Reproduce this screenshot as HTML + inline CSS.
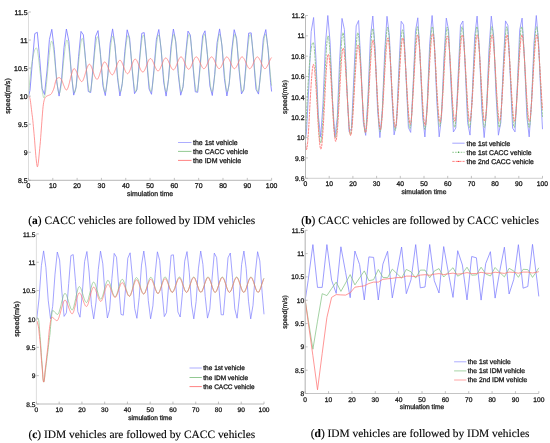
<!DOCTYPE html>
<html><head><meta charset="utf-8"><title>Speed plots</title>
<style>html,body{margin:0;padding:0;background:#fff;}body{width:550px;height:443px;overflow:hidden;}svg{display:block;filter:blur(0.3px);}</style>
</head><body>
<svg width="550" height="443" viewBox="0 0 550 443" font-family="'Liberation Sans', Arial, Helvetica, sans-serif" fill="#1e1e1e" text-rendering="geometricPrecision">
<style>text{stroke:#1e1e1e;stroke-width:0.3px;paint-order:stroke}</style>
<rect width="550" height="443" fill="#fff"/>
<polyline points="28.5,96.2 30.0,90.3 32.4,61.5 34.8,33.6 37.3,32.3 39.7,58.7 42.1,88.6 44.5,94.5 47.0,70.9 49.4,39.6 51.8,29.3 54.3,49.5 56.7,81.6 59.1,96.1 61.6,79.7 64.0,47.5 66.4,29.0 68.9,41.4 71.3,73.1 73.7,95.1 76.1,87.1 78.6,56.5 81.0,31.4 83.4,34.9 85.9,63.8 88.3,91.5 90.7,92.5 93.2,66.0 95.6,36.2 98.0,30.6 100.5,54.3 102.9,85.6 105.3,95.6 107.8,75.2 110.2,43.1 112.6,28.9 115.0,45.5 117.5,77.8 119.9,96.0 122.3,83.4 124.8,51.6 127.2,29.8 129.6,38.1 132.1,68.8 134.5,93.7 136.9,89.9 139.4,60.9 141.8,33.3 144.2,32.6 146.6,59.3 149.1,89.0 151.5,94.3 153.9,70.4 156.4,39.2 158.8,29.5 161.2,50.1 163.7,82.1 166.1,96.1 168.5,79.2 171.0,46.9 173.4,29.0 175.8,41.8 178.2,73.7 180.7,95.2 183.1,86.7 185.5,55.9 188.0,31.1 190.4,35.2 192.8,64.4 195.3,91.8 197.7,92.3 200.1,65.4 202.6,35.8 205.0,30.8 207.4,54.9 209.9,86.0 212.3,95.5 214.7,74.6 217.1,42.6 219.6,28.9 222.0,46.0 224.4,78.3 226.9,96.0 229.3,82.9 231.7,51.0 234.2,29.7 236.6,38.5 239.0,69.4 241.5,93.9 243.9,89.6 246.3,60.3 248.7,33.1 251.2,32.9 253.6,59.9 256.0,89.3 258.5,94.1 260.9,69.8 263.3,38.8 265.8,29.6 268.2,50.6 270.6,82.6 271.6,91.5" fill="none" stroke="#7c7cff" stroke-width="0.85" stroke-linejoin="round" />
<polyline points="28.5,96.2 28.8,92.4 29.1,88.8 29.4,85.4 29.7,82.1 30.0,79.0 30.3,76.1 30.6,73.3 30.9,70.6 31.2,68.1 31.5,65.8 31.8,63.6 32.1,61.5 32.5,59.6 32.8,57.8 33.1,56.2 33.4,54.8 33.7,53.4 34.0,52.3 34.3,51.2 34.6,50.3 34.9,49.6 35.2,49.0 35.5,48.5 35.8,48.2 36.1,48.0 36.4,47.9 36.7,48.2 37.0,48.9 37.3,50.0 37.6,51.4 37.9,53.2 38.2,55.2 38.5,57.5 38.8,60.0 39.1,62.7 39.4,65.5 39.7,68.4 40.0,71.4 40.4,74.4 40.7,77.3 41.0,80.2 41.3,83.0 41.6,85.7 41.9,88.2 42.2,90.5 42.5,92.6 42.8,94.3 43.1,95.8 43.4,96.9 43.7,97.6 44.0,97.8 44.3,97.6 44.6,96.9 44.9,95.7 45.2,94.1 45.5,92.1 45.8,89.8 46.1,87.3 46.4,84.5 46.7,81.4 47.0,78.3 47.3,75.0 47.6,71.6 47.9,68.3 48.3,64.9 48.6,61.6 48.9,58.4 49.2,55.3 49.5,52.5 49.8,49.8 50.1,47.4 50.4,45.4 50.7,43.7 51.0,42.4 51.3,41.5 51.6,41.2 51.9,41.3 52.2,41.9 52.5,43.0 52.8,44.4 53.1,46.2 53.4,48.2 53.7,50.6 54.0,53.1 54.3,55.9 54.6,58.8 54.9,61.8 55.2,64.9 55.5,68.0 55.8,71.1 56.2,74.1 56.5,77.1 56.8,79.9 57.1,82.6 57.4,85.1 57.7,87.3 58.0,89.2 58.3,90.8 58.6,92.1 58.9,92.9 59.2,93.3 59.5,93.2 59.8,92.7 60.1,91.7 60.4,90.3 60.7,88.5 61.0,86.4 61.3,84.1 61.6,81.5 61.9,78.7 62.2,75.8 62.5,72.7 62.8,69.5 63.1,66.4 63.4,63.2 63.7,60.1 64.1,57.0 64.4,54.1 64.7,51.4 65.0,48.8 65.3,46.5 65.6,44.5 65.9,42.8 66.2,41.5 66.5,40.6 66.8,40.1 67.1,40.1 67.4,40.6 67.7,41.6 68.0,42.9 68.3,44.6 68.6,46.6 68.9,48.9 69.2,51.4 69.5,54.2 69.8,57.1 70.1,60.1 70.4,63.2 70.7,66.3 71.0,69.5 71.3,72.6 71.7,75.6 72.0,78.5 72.3,81.2 72.6,83.8 72.9,86.1 73.2,88.1 73.5,89.9 73.8,91.2 74.1,92.2 74.4,92.7 74.7,92.7 75.0,92.3 75.3,91.4 75.6,90.1 75.9,88.4 76.2,86.3 76.5,84.0 76.8,81.4 77.1,78.6 77.4,75.6 77.7,72.5 78.0,69.3 78.3,66.1 78.6,62.9 78.9,59.7 79.2,56.5 79.6,53.5 79.9,50.6 80.2,48.0 80.5,45.6 80.8,43.4 81.1,41.6 81.4,40.2 81.7,39.1 82.0,38.5 82.3,38.4 82.6,38.8 82.9,39.6 83.2,40.9 83.5,42.5 83.8,44.5 84.1,46.8 84.4,49.3 84.7,52.0 85.0,54.9 85.3,58.0 85.6,61.1 85.9,64.3 86.2,67.6 86.5,70.7 86.8,73.9 87.1,76.9 87.5,79.7 87.8,82.4 88.1,84.8 88.4,87.0 88.7,88.8 89.0,90.3 89.3,91.4 89.6,92.0 89.9,92.2 90.2,91.9 90.5,91.1 90.8,89.8 91.1,88.2 91.4,86.2 91.7,83.9 92.0,81.3 92.3,78.5 92.6,75.5 92.9,72.4 93.2,69.2 93.5,65.9 93.8,62.6 94.1,59.3 94.4,56.0 94.7,52.9 95.0,50.0 95.4,47.2 95.7,44.7 96.0,42.4 96.3,40.4 96.6,38.9 96.9,37.7 97.2,36.9 97.5,36.7 97.8,36.9 98.1,37.7 98.4,38.9 98.7,40.5 99.0,42.4 99.3,44.7 99.6,47.2 99.9,50.0 100.2,53.0 100.5,56.1 100.8,59.3 101.1,62.6 101.4,65.9 101.7,69.2 102.0,72.4 102.3,75.6 102.6,78.6 102.9,81.4 103.3,83.9 103.6,86.2 103.9,88.2 104.2,89.9 104.5,91.1 104.8,91.9 105.1,92.2 105.4,92.0 105.7,91.3 106.0,90.2 106.3,88.6 106.6,86.7 106.9,84.5 107.2,81.9 107.5,79.2 107.8,76.2 108.1,73.1 108.4,69.8 108.7,66.5 109.0,63.1 109.3,59.8 109.6,56.5 109.9,53.4 110.2,50.3 110.5,47.5 110.9,44.8 111.2,42.5 111.5,40.4 111.8,38.7 112.1,37.4 112.4,36.5 112.7,36.1 113.0,36.3 113.3,36.9 113.6,38.0 113.9,39.4 114.2,41.3 114.5,43.5 114.8,46.0 115.1,48.7 115.4,51.6 115.7,54.7 116.0,57.9 116.3,61.2 116.6,64.5 116.9,67.8 117.2,71.0 117.5,74.2 117.8,77.2 118.1,80.1 118.4,82.7 118.8,85.1 119.1,87.2 119.4,88.9 119.7,90.2 120.0,91.2 120.3,91.6 120.6,91.6 120.9,91.0 121.2,90.0 121.5,88.5 121.8,86.7 122.1,84.5 122.4,82.1 122.7,79.4 123.0,76.4 123.3,73.3 123.6,70.1 123.9,66.8 124.2,63.5 124.5,60.1 124.8,56.8 125.1,53.6 125.4,50.5 125.7,47.6 126.0,44.9 126.3,42.5 126.7,40.4 127.0,38.6 127.3,37.1 127.6,36.2 127.9,35.6 128.2,35.6 128.5,36.1 128.8,37.1 129.1,38.5 129.4,40.3 129.7,42.4 130.0,44.8 130.3,47.5 130.6,50.4 130.9,53.5 131.2,56.7 131.5,60.0 131.8,63.3 132.1,66.6 132.4,70.0 132.7,73.2 133.0,76.3 133.3,79.2 133.6,81.9 133.9,84.4 134.2,86.6 134.6,88.4 134.9,89.9 135.2,91.0 135.5,91.5 135.8,91.6 136.1,91.2 136.4,90.3 136.7,88.9 137.0,87.2 137.3,85.1 137.6,82.7 137.9,80.0 138.2,77.1 138.5,74.0 138.8,70.8 139.1,67.5 139.4,64.1 139.7,60.7 140.0,57.4 140.3,54.1 140.6,50.9 140.9,48.0 141.2,45.2 141.5,42.6 141.8,40.4 142.1,38.5 142.5,36.9 142.8,35.8 143.1,35.2 143.4,35.0 143.7,35.4 144.0,36.2 144.3,37.5 144.6,39.2 144.9,41.3 145.2,43.7 145.5,46.3 145.8,49.2 146.1,52.2 146.4,55.5 146.7,58.8 147.0,62.1 147.3,65.5 147.6,68.9 147.9,72.1 148.2,75.3 148.5,78.3 148.8,81.1 149.1,83.7 149.4,86.0 149.7,87.9 150.1,89.5 150.4,90.7 150.7,91.4 151.0,91.7 151.3,91.4 151.6,90.6 151.9,89.3 152.2,87.7 152.5,85.7 152.8,83.3 153.1,80.7 153.4,77.9 153.7,74.8 154.0,71.6 154.3,68.3 154.6,65.0 154.9,61.6 155.2,58.3 155.5,55.0 155.8,51.8 156.1,48.7 156.4,45.9 156.7,43.3 157.0,41.0 157.3,39.0 157.6,37.3 158.0,36.1 158.3,35.3 158.6,35.0 158.9,35.2 159.2,36.0 159.5,37.2 159.8,38.7 160.1,40.7 160.4,43.0 160.7,45.6 161.0,48.4 161.3,51.4 161.6,54.6 161.9,57.9 162.2,61.2 162.5,64.6 162.8,68.0 163.1,71.3 163.4,74.5 163.7,77.5 164.0,80.4 164.3,83.0 164.6,85.4 164.9,87.5 165.2,89.2 165.5,90.4 165.9,91.3 166.2,91.7 166.5,91.5 166.8,90.8 167.1,89.7 167.4,88.1 167.7,86.2 168.0,83.9 168.3,81.3 168.6,78.5 168.9,75.5 169.2,72.3 169.5,69.0 169.8,65.6 170.1,62.2 170.4,58.8 170.7,55.5 171.0,52.2 171.3,49.1 171.6,46.2 171.9,43.5 172.2,41.1 172.5,38.9 172.8,37.2 173.1,35.8 173.4,34.9 173.8,34.5 174.1,34.6 174.4,35.2 174.7,36.3 175.0,37.8 175.3,39.6 175.6,41.9 175.9,44.4 176.2,47.2 176.5,50.2 176.8,53.4 177.1,56.7 177.4,60.0 177.7,63.4 178.0,66.8 178.3,70.2 178.6,73.5 178.9,76.6 179.2,79.5 179.5,82.3 179.8,84.7 180.1,86.9 180.4,88.7 180.7,90.1 181.0,91.1 181.3,91.6 181.7,91.6 182.0,91.0 182.3,90.0 182.6,88.6 182.9,86.7 183.2,84.5 183.5,82.0 183.8,79.3 184.1,76.3 184.4,73.2 184.7,69.9 185.0,66.5 185.3,63.1 185.6,59.7 185.9,56.3 186.2,53.1 186.5,49.9 186.8,46.9 187.1,44.2 187.4,41.7 187.7,39.5 188.0,37.6 188.3,36.1 188.6,35.1 188.9,34.5 189.2,34.5 189.6,35.0 189.9,35.9 190.2,37.3 190.5,39.1 190.8,41.3 191.1,43.7 191.4,46.4 191.7,49.4 192.0,52.5 192.3,55.8 192.6,59.1 192.9,62.5 193.2,65.9 193.5,69.3 193.8,72.6 194.1,75.8 194.4,78.8 194.7,81.6 195.0,84.1 195.3,86.4 195.6,88.3 195.9,89.8 196.2,90.9 196.5,91.5 196.8,91.6 197.2,91.2 197.5,90.3 197.8,89.0 198.1,87.2 198.4,85.1 198.7,82.7 199.0,80.0 199.3,77.1 199.6,74.0 199.9,70.8 200.2,67.4 200.5,64.0 200.8,60.6 201.1,57.2 201.4,53.9 201.7,50.7 202.0,47.7 202.3,44.9 202.6,42.3 202.9,40.0 203.2,38.1 203.5,36.5 203.8,35.3 204.1,34.6 204.4,34.4 204.7,34.8 205.1,35.6 205.4,36.9 205.7,38.6 206.0,40.7 206.3,43.0 206.6,45.7 206.9,48.6 207.2,51.7 207.5,54.9 207.8,58.2 208.1,61.6 208.4,65.0 208.7,68.4 209.0,71.7 209.3,74.9 209.6,78.0 209.9,80.9 210.2,83.5 210.5,85.8 210.8,87.8 211.1,89.4 211.4,90.6 211.7,91.4 212.0,91.7 212.3,91.4 212.6,90.6 213.0,89.4 213.3,87.7 213.6,85.7 213.9,83.4 214.2,80.8 214.5,77.9 214.8,74.9 215.1,71.6 215.4,68.3 215.7,64.9 216.0,61.5 216.3,58.1 216.6,54.8 216.9,51.6 217.2,48.5 217.5,45.6 217.8,43.0 218.1,40.6 218.4,38.5 218.7,36.9 219.0,35.6 219.3,34.8 219.6,34.4 219.9,34.6 220.2,35.4 220.5,36.5 220.9,38.1 221.2,40.1 221.5,42.4 221.8,45.0 222.1,47.8 222.4,50.8 222.7,54.0 223.0,57.3 223.3,60.7 223.6,64.1 223.9,67.5 224.2,70.9 224.5,74.1 224.8,77.2 225.1,80.1 225.4,82.8 225.7,85.2 226.0,87.3 226.3,89.0 226.6,90.4 226.9,91.3 227.2,91.6 227.5,91.5 227.8,90.9 228.1,89.8 228.4,88.2 228.8,86.3 229.1,84.1 229.4,81.5 229.7,78.7 230.0,75.7 230.3,72.5 230.6,69.2 230.9,65.8 231.2,62.4 231.5,59.0 231.8,55.7 232.1,52.4 232.4,49.3 232.7,46.4 233.0,43.6 233.3,41.2 233.6,39.1 233.9,37.3 234.2,35.9 234.5,34.9 234.8,34.5 235.1,34.5 235.4,35.1 235.7,36.2 236.0,37.7 236.4,39.5 236.7,41.7 237.0,44.2 237.3,47.0 237.6,50.0 237.9,53.2 238.2,56.4 238.5,59.8 238.8,63.2 239.1,66.6 239.4,70.0 239.7,73.3 240.0,76.4 240.3,79.4 240.6,82.1 240.9,84.6 241.2,86.8 241.5,88.6 241.8,90.1 242.1,91.1 242.4,91.6 242.7,91.6 243.0,91.1 243.3,90.1 243.6,88.7 243.9,86.8 244.3,84.7 244.6,82.2 244.9,79.5 245.2,76.5 245.5,73.4 245.8,70.1 246.1,66.7 246.4,63.3 246.7,59.9 247.0,56.6 247.3,53.3 247.6,50.1 247.9,47.1 248.2,44.3 248.5,41.8 248.8,39.6 249.1,37.7 249.4,36.2 249.7,35.1 250.0,34.6 250.3,34.5 250.6,34.9 250.9,35.8 251.2,37.2 251.5,39.0 251.8,41.1 252.2,43.6 252.5,46.3 252.8,49.2 253.1,52.3 253.4,55.6 253.7,58.9 254.0,62.3 254.3,65.7 254.6,69.1 254.9,72.4 255.2,75.6 255.5,78.6 255.8,81.4 256.1,84.0 256.4,86.2 256.7,88.2 257.0,89.7 257.3,90.8 257.6,91.5 257.9,91.6 258.2,91.3 258.5,90.4 258.8,89.1 259.1,87.4 259.4,85.3 259.7,82.9 260.1,80.2 260.4,77.3 260.7,74.2 261.0,71.0 261.3,67.6 261.6,64.2 261.9,60.8 262.2,57.4 262.5,54.1 262.8,50.9 263.1,47.9 263.4,45.1 263.7,42.5 264.0,40.1 264.3,38.2 264.6,36.6 264.9,35.4 265.2,34.7 265.5,34.4 265.8,34.8 266.1,35.6 266.4,36.8 266.7,38.5 267.0,40.5 267.3,42.9 267.6,45.5 268.0,48.4 268.3,51.5 268.6,54.7 268.9,58.0 269.2,61.4 269.5,64.8 269.8,68.2 270.1,71.5 270.4,74.8 270.7,77.8 271.0,80.7 271.3,83.3 271.6,85.7" fill="none" stroke="#8cc68c" stroke-width="0.55" stroke-linejoin="round" />
<polyline points="28.5,96.2 28.8,96.2 29.1,96.4 29.4,96.7 29.7,97.4 30.0,98.6 30.3,100.3 30.6,102.3 30.9,104.7 31.2,107.2 31.5,109.7 31.8,112.3 32.1,114.7 32.5,117.4 32.8,120.3 33.1,123.4 33.4,126.7 33.7,130.0 34.0,133.3 34.3,136.7 34.6,140.2 34.9,144.1 35.2,148.1 35.5,151.9 35.8,155.4 36.1,158.3 36.4,161.0 36.7,163.6 37.0,165.7 37.3,166.8 37.6,166.6 37.9,165.4 38.2,163.5 38.5,161.0 38.8,158.1 39.1,155.0 39.4,151.9 39.7,148.8 40.0,145.5 40.4,141.6 40.7,137.4 41.0,133.2 41.3,129.0 41.6,125.1 41.9,121.2 42.2,117.1 42.5,113.1 42.8,109.5 43.1,106.4 43.4,104.2 43.7,102.4 44.0,100.9 44.3,99.7 44.6,98.8 44.9,98.2 45.2,97.7 45.5,97.2 45.8,96.9 46.1,96.6 46.4,96.4 46.7,96.2 47.0,96.0 47.3,95.9 47.6,95.7 47.9,95.6 48.3,95.5 48.6,95.3 48.9,95.2 49.2,95.1 49.5,95.0 49.8,94.9 50.1,94.8 50.4,94.6 50.7,94.4 51.0,94.2 51.3,93.8 51.6,93.4 51.9,92.9 52.2,92.3 52.5,91.7 52.8,91.0 53.1,90.4 53.4,89.7 53.7,89.0 54.0,88.0 54.3,86.9 54.6,85.6 54.9,84.3 55.2,83.0 55.5,81.7 55.8,80.6 56.2,79.7 56.5,79.1 56.8,78.7 57.1,78.5 57.4,78.3 57.7,78.1 58.0,77.9 58.3,77.8 58.6,77.7 58.9,77.7 59.2,77.6 59.5,77.7 59.8,77.9 60.1,78.1 60.4,78.4 60.7,78.6 61.0,78.9 61.3,79.4 61.6,79.9 61.9,80.5 62.2,81.2 62.5,82.0 62.8,82.8 63.1,83.6 63.4,84.5 63.7,85.3 64.1,86.1 64.4,86.9 64.7,87.7 65.0,88.3 65.3,88.9 65.6,89.4 65.9,89.7 66.2,89.9 66.5,90.0 66.8,89.9 67.1,89.5 67.4,89.1 67.7,88.4 68.0,87.7 68.3,86.8 68.6,85.8 68.9,84.7 69.2,83.6 69.5,82.4 69.8,81.1 70.1,79.9 70.4,78.6 70.7,77.3 71.0,76.1 71.3,74.9 71.7,73.8 72.0,72.7 72.3,71.7 72.6,70.9 72.9,70.1 73.2,69.5 73.5,69.0 73.8,68.8 74.1,68.7 74.4,68.7 74.7,68.9 75.0,69.2 75.3,69.5 75.6,70.0 75.9,70.5 76.2,71.1 76.5,71.8 76.8,72.4 77.1,73.2 77.4,73.9 77.7,74.7 78.0,75.4 78.3,76.2 78.6,77.0 78.9,77.7 79.2,78.4 79.6,79.0 79.9,79.6 80.2,80.2 80.5,80.6 80.8,81.0 81.1,81.3 81.4,81.5 81.7,81.6 82.0,81.5 82.3,81.3 82.6,80.9 82.9,80.5 83.2,79.9 83.5,79.2 83.8,78.4 84.1,77.5 84.4,76.6 84.7,75.6 85.0,74.6 85.3,73.6 85.6,72.6 85.9,71.5 86.2,70.5 86.5,69.5 86.8,68.6 87.1,67.7 87.5,66.9 87.8,66.1 88.1,65.5 88.4,65.0 88.7,64.6 89.0,64.3 89.3,64.2 89.6,64.2 89.9,64.4 90.2,64.7 90.5,65.1 90.8,65.6 91.1,66.2 91.4,66.9 91.7,67.6 92.0,68.4 92.3,69.2 92.6,70.1 92.9,71.0 93.2,71.9 93.5,72.8 93.8,73.7 94.1,74.6 94.4,75.4 94.7,76.2 95.0,76.9 95.4,77.5 95.7,78.1 96.0,78.6 96.3,78.9 96.6,79.2 96.9,79.3 97.2,79.3 97.5,79.1 97.8,78.8 98.1,78.3 98.4,77.8 98.7,77.1 99.0,76.3 99.3,75.5 99.6,74.6 99.9,73.6 100.2,72.6 100.5,71.6 100.8,70.6 101.1,69.5 101.4,68.5 101.7,67.5 102.0,66.6 102.3,65.7 102.6,64.8 102.9,64.1 103.3,63.4 103.6,62.9 103.9,62.4 104.2,62.1 104.5,62.0 104.8,61.9 105.1,62.1 105.4,62.3 105.7,62.6 106.0,63.0 106.3,63.5 106.6,64.1 106.9,64.7 107.2,65.3 107.5,66.0 107.8,66.8 108.1,67.5 108.4,68.3 108.7,69.1 109.0,69.8 109.3,70.6 109.6,71.3 109.9,72.0 110.2,72.6 110.5,73.2 110.9,73.7 111.2,74.1 111.5,74.4 111.8,74.7 112.1,74.8 112.4,74.8 112.7,74.7 113.0,74.5 113.3,74.1 113.6,73.7 113.9,73.1 114.2,72.5 114.5,71.8 114.8,71.1 115.1,70.3 115.4,69.5 115.7,68.6 116.0,67.7 116.3,66.9 116.6,66.0 116.9,65.2 117.2,64.4 117.5,63.6 117.8,62.9 118.1,62.2 118.4,61.6 118.8,61.1 119.1,60.7 119.4,60.5 119.7,60.3 120.0,60.2 120.3,60.3 120.6,60.5 120.9,60.8 121.2,61.3 121.5,61.7 121.8,62.3 122.1,62.9 122.4,63.6 122.7,64.3 123.0,65.1 123.3,65.9 123.6,66.7 123.9,67.5 124.2,68.3 124.5,69.1 124.8,69.8 125.1,70.5 125.4,71.2 125.7,71.8 126.0,72.4 126.3,72.8 126.7,73.2 127.0,73.5 127.3,73.7 127.6,73.7 127.9,73.6 128.2,73.4 128.5,73.1 128.8,72.7 129.1,72.2 129.4,71.6 129.7,70.9 130.0,70.2 130.3,69.4 130.6,68.6 130.9,67.7 131.2,66.8 131.5,66.0 131.8,65.1 132.1,64.3 132.4,63.4 132.7,62.7 133.0,61.9 133.3,61.3 133.6,60.7 133.9,60.1 134.2,59.7 134.6,59.4 134.9,59.2 135.2,59.1 135.5,59.2 135.8,59.3 136.1,59.6 136.4,60.0 136.7,60.4 137.0,60.9 137.3,61.5 137.6,62.2 137.9,62.9 138.2,63.6 138.5,64.3 138.8,65.1 139.1,65.9 139.4,66.6 139.7,67.4 140.0,68.1 140.3,68.8 140.6,69.5 140.9,70.1 141.2,70.6 141.5,71.1 141.8,71.5 142.1,71.7 142.5,71.9 142.8,72.0 143.1,72.0 143.4,71.8 143.7,71.6 144.0,71.2 144.3,70.7 144.6,70.2 144.9,69.6 145.2,68.9 145.5,68.2 145.8,67.5 146.1,66.7 146.4,65.9 146.7,65.1 147.0,64.3 147.3,63.5 147.6,62.7 147.9,62.0 148.2,61.3 148.5,60.7 148.8,60.1 149.1,59.6 149.4,59.2 149.7,58.9 150.1,58.7 150.4,58.6 150.7,58.6 151.0,58.7 151.3,59.0 151.6,59.3 151.9,59.7 152.2,60.2 152.5,60.7 152.8,61.3 153.1,62.0 153.4,62.6 153.7,63.4 154.0,64.1 154.3,64.8 154.6,65.5 154.9,66.3 155.2,67.0 155.5,67.7 155.8,68.3 156.1,68.9 156.4,69.4 156.7,69.9 157.0,70.3 157.3,70.6 157.6,70.8 158.0,70.9 158.3,70.9 158.6,70.8 158.9,70.5 159.2,70.2 159.5,69.8 159.8,69.3 160.1,68.7 160.4,68.1 160.7,67.4 161.0,66.7 161.3,66.0 161.6,65.2 161.9,64.5 162.2,63.7 162.5,62.9 162.8,62.2 163.1,61.5 163.4,60.8 163.7,60.2 164.0,59.6 164.3,59.1 164.6,58.7 164.9,58.4 165.2,58.2 165.5,58.0 165.9,58.0 166.2,58.1 166.5,58.3 166.8,58.6 167.1,59.0 167.4,59.4 167.7,59.9 168.0,60.5 168.3,61.1 168.6,61.7 168.9,62.4 169.2,63.1 169.5,63.8 169.8,64.5 170.1,65.2 170.4,65.9 170.7,66.5 171.0,67.1 171.3,67.7 171.6,68.2 171.9,68.7 172.2,69.1 172.5,69.4 172.8,69.6 173.1,69.8 173.4,69.8 173.8,69.7 174.1,69.5 174.4,69.2 174.7,68.8 175.0,68.3 175.3,67.8 175.6,67.2 175.9,66.5 176.2,65.8 176.5,65.1 176.8,64.3 177.1,63.6 177.4,62.8 177.7,62.0 178.0,61.3 178.3,60.6 178.6,59.9 178.9,59.2 179.2,58.7 179.5,58.1 179.8,57.7 180.1,57.3 180.4,57.1 180.7,56.9 181.0,56.9 181.3,57.0 181.7,57.1 182.0,57.4 182.3,57.8 182.6,58.2 182.9,58.7 183.2,59.3 183.5,59.9 183.8,60.6 184.1,61.3 184.4,62.0 184.7,62.7 185.0,63.5 185.3,64.2 185.6,64.9 185.9,65.6 186.2,66.3 186.5,66.9 186.8,67.5 187.1,68.0 187.4,68.4 187.7,68.7 188.0,69.0 188.3,69.2 188.6,69.2 188.9,69.2 189.2,69.0 189.6,68.7 189.9,68.4 190.2,67.9 190.5,67.4 190.8,66.9 191.1,66.3 191.4,65.6 191.7,64.9 192.0,64.2 192.3,63.5 192.6,62.7 192.9,62.0 193.2,61.3 193.5,60.6 193.8,59.9 194.1,59.3 194.4,58.7 194.7,58.2 195.0,57.8 195.3,57.4 195.6,57.1 195.9,57.0 196.2,56.9 196.5,56.9 196.8,57.1 197.2,57.3 197.5,57.6 197.8,58.0 198.1,58.5 198.4,59.0 198.7,59.6 199.0,60.3 199.3,60.9 199.6,61.6 199.9,62.3 200.2,63.0 200.5,63.7 200.8,64.4 201.1,65.0 201.4,65.7 201.7,66.3 202.0,66.8 202.3,67.3 202.6,67.8 202.9,68.1 203.2,68.4 203.5,68.6 203.8,68.7 204.1,68.6 204.4,68.5 204.7,68.3 205.1,68.0 205.4,67.6 205.7,67.1 206.0,66.6 206.3,66.0 206.6,65.4 206.9,64.7 207.2,64.0 207.5,63.3 207.8,62.6 208.1,61.9 208.4,61.3 208.7,60.6 209.0,59.9 209.3,59.3 209.6,58.8 209.9,58.3 210.2,57.8 210.5,57.5 210.8,57.2 211.1,57.0 211.4,56.9 211.7,56.9 212.0,57.0 212.3,57.2 212.6,57.5 213.0,57.9 213.3,58.4 213.6,58.9 213.9,59.5 214.2,60.1 214.5,60.7 214.8,61.4 215.1,62.1 215.4,62.8 215.7,63.5 216.0,64.2 216.3,64.9 216.6,65.5 216.9,66.1 217.2,66.7 217.5,67.2 217.8,67.7 218.1,68.0 218.4,68.3 218.7,68.5 219.0,68.6 219.3,68.6 219.6,68.5 219.9,68.3 220.2,68.0 220.5,67.7 220.9,67.2 221.2,66.7 221.5,66.2 221.8,65.5 222.1,64.9 222.4,64.2 222.7,63.5 223.0,62.8 223.3,62.1 223.6,61.4 223.9,60.8 224.2,60.1 224.5,59.5 224.8,58.9 225.1,58.4 225.4,57.9 225.7,57.6 226.0,57.2 226.3,57.0 226.6,56.9 226.9,56.9 227.2,57.0 227.5,57.2 227.8,57.5 228.1,57.8 228.4,58.3 228.8,58.8 229.1,59.3 229.4,59.9 229.7,60.6 230.0,61.2 230.3,61.9 230.6,62.6 230.9,63.3 231.2,64.0 231.5,64.7 231.8,65.3 232.1,66.0 232.4,66.5 232.7,67.1 233.0,67.5 233.3,67.9 233.6,68.3 233.9,68.5 234.2,68.6 234.5,68.7 234.8,68.6 235.1,68.4 235.4,68.1 235.7,67.8 236.0,67.3 236.4,66.9 236.7,66.3 237.0,65.7 237.3,65.1 237.6,64.4 237.9,63.7 238.2,63.0 238.5,62.3 238.8,61.6 239.1,60.9 239.4,60.3 239.7,59.7 240.0,59.1 240.3,58.5 240.6,58.1 240.9,57.6 241.2,57.3 241.5,57.1 241.8,56.9 242.1,56.9 242.4,56.9 242.7,57.1 243.0,57.4 243.3,57.7 243.6,58.1 243.9,58.6 244.3,59.2 244.6,59.8 244.9,60.4 245.2,61.0 245.5,61.7 245.8,62.4 246.1,63.1 246.4,63.8 246.7,64.5 247.0,65.2 247.3,65.8 247.6,66.4 247.9,66.9 248.2,67.4 248.5,67.8 248.8,68.2 249.1,68.4 249.4,68.6 249.7,68.7 250.0,68.6 250.3,68.5 250.6,68.2 250.9,67.9 251.2,67.5 251.5,67.0 251.8,66.5 252.2,65.9 252.5,65.2 252.8,64.6 253.1,63.9 253.4,63.2 253.7,62.5 254.0,61.8 254.3,61.1 254.6,60.4 254.9,59.8 255.2,59.2 255.5,58.7 255.8,58.2 256.1,57.8 256.4,57.4 256.7,57.1 257.0,57.0 257.3,56.9 257.6,56.9 257.9,57.1 258.2,57.3 258.5,57.6 258.8,58.0 259.1,58.5 259.4,59.0 259.7,59.6 260.1,60.2 260.4,60.9 260.7,61.5 261.0,62.2 261.3,62.9 261.6,63.6 261.9,64.3 262.2,65.0 262.5,65.6 262.8,66.2 263.1,66.8 263.4,67.3 263.7,67.7 264.0,68.1 264.3,68.4 264.6,68.6 264.9,68.7 265.2,68.6 265.5,68.5 265.8,68.3 266.1,68.0 266.4,67.6 266.7,67.1 267.0,66.6 267.3,66.0 267.6,65.4 268.0,64.8 268.3,64.1 268.6,63.4 268.9,62.7 269.2,62.0 269.5,61.3 269.8,60.6 270.1,60.0 270.4,59.4 270.7,58.8 271.0,58.3 271.3,57.9 271.6,57.5" fill="none" stroke="#ff7474" stroke-width="0.75" stroke-linejoin="round" />
<line x1="28.50" y1="12.00" x2="28.50" y2="180.30" stroke="#d4d4d4" stroke-width="0.8"/>
<line x1="28.50" y1="180.30" x2="271.60" y2="180.30" stroke="#a4a4a4" stroke-width="0.8"/>
<line x1="28.50" y1="180.30" x2="30.90" y2="180.30" stroke="#a8a8a8" stroke-width="0.7"/>
<text x="27.50" y="183.18" text-anchor="end" font-size="6.9">8.5</text>
<line x1="28.50" y1="152.25" x2="30.90" y2="152.25" stroke="#a8a8a8" stroke-width="0.7"/>
<text x="27.50" y="155.13" text-anchor="end" font-size="6.9">9</text>
<line x1="28.50" y1="124.20" x2="30.90" y2="124.20" stroke="#a8a8a8" stroke-width="0.7"/>
<text x="27.50" y="127.08" text-anchor="end" font-size="6.9">9.5</text>
<line x1="28.50" y1="96.15" x2="30.90" y2="96.15" stroke="#a8a8a8" stroke-width="0.7"/>
<text x="27.50" y="99.03" text-anchor="end" font-size="6.9">10</text>
<line x1="28.50" y1="68.10" x2="30.90" y2="68.10" stroke="#a8a8a8" stroke-width="0.7"/>
<text x="27.50" y="70.98" text-anchor="end" font-size="6.9">10.5</text>
<line x1="28.50" y1="40.05" x2="30.90" y2="40.05" stroke="#a8a8a8" stroke-width="0.7"/>
<text x="27.50" y="42.93" text-anchor="end" font-size="6.9">11</text>
<line x1="28.50" y1="12.00" x2="30.90" y2="12.00" stroke="#a8a8a8" stroke-width="0.7"/>
<text x="27.50" y="14.88" text-anchor="end" font-size="6.9">11.5</text>
<line x1="28.50" y1="180.30" x2="28.50" y2="177.90" stroke="#a8a8a8" stroke-width="0.7"/>
<text x="28.50" y="188.00" text-anchor="middle" font-size="6.9">0</text>
<line x1="52.81" y1="180.30" x2="52.81" y2="177.90" stroke="#a8a8a8" stroke-width="0.7"/>
<text x="52.81" y="188.00" text-anchor="middle" font-size="6.9">10</text>
<line x1="77.12" y1="180.30" x2="77.12" y2="177.90" stroke="#a8a8a8" stroke-width="0.7"/>
<text x="77.12" y="188.00" text-anchor="middle" font-size="6.9">20</text>
<line x1="101.43" y1="180.30" x2="101.43" y2="177.90" stroke="#a8a8a8" stroke-width="0.7"/>
<text x="101.43" y="188.00" text-anchor="middle" font-size="6.9">30</text>
<line x1="125.74" y1="180.30" x2="125.74" y2="177.90" stroke="#a8a8a8" stroke-width="0.7"/>
<text x="125.74" y="188.00" text-anchor="middle" font-size="6.9">40</text>
<line x1="150.05" y1="180.30" x2="150.05" y2="177.90" stroke="#a8a8a8" stroke-width="0.7"/>
<text x="150.05" y="188.00" text-anchor="middle" font-size="6.9">50</text>
<line x1="174.36" y1="180.30" x2="174.36" y2="177.90" stroke="#a8a8a8" stroke-width="0.7"/>
<text x="174.36" y="188.00" text-anchor="middle" font-size="6.9">60</text>
<line x1="198.67" y1="180.30" x2="198.67" y2="177.90" stroke="#a8a8a8" stroke-width="0.7"/>
<text x="198.67" y="188.00" text-anchor="middle" font-size="6.9">70</text>
<line x1="222.98" y1="180.30" x2="222.98" y2="177.90" stroke="#a8a8a8" stroke-width="0.7"/>
<text x="222.98" y="188.00" text-anchor="middle" font-size="6.9">80</text>
<line x1="247.29" y1="180.30" x2="247.29" y2="177.90" stroke="#a8a8a8" stroke-width="0.7"/>
<text x="247.29" y="188.00" text-anchor="middle" font-size="6.9">90</text>
<line x1="271.60" y1="180.30" x2="271.60" y2="177.90" stroke="#a8a8a8" stroke-width="0.7"/>
<text x="271.60" y="188.00" text-anchor="middle" font-size="6.9">100</text>
<text x="150.05" y="196.00" text-anchor="middle" font-size="6.9">simulation time</text>
<text transform="translate(10.30,96.00) rotate(-90)" x="0" y="0" text-anchor="middle" font-size="7.1">speed(m/s)</text>
<line x1="178.00" y1="142.50" x2="191.50" y2="142.50" stroke="#a4a4ff" stroke-width="0.9" />
<text x="193.00" y="145.02" font-size="7.0">the 1st vehicle</text>
<line x1="178.00" y1="151.40" x2="191.50" y2="151.40" stroke="#86c386" stroke-width="0.9" />
<text x="193.00" y="153.92" font-size="7.0">the CACC vehicle</text>
<line x1="178.00" y1="160.40" x2="191.50" y2="160.40" stroke="#ff7474" stroke-width="0.9" />
<text x="193.00" y="162.92" font-size="7.0">the IDM vehicle</text>
<polyline points="305.5,137.6 306.4,132.8 308.8,86.9 311.2,31.5 313.6,17.5 315.9,57.8 318.3,115.3 320.7,137.2 323.0,103.3 325.4,44.8 327.8,15.5 330.1,42.3 332.5,100.6 334.9,136.8 337.3,117.6 339.6,60.7 342.0,18.4 344.4,29.5 346.7,83.9 349.1,131.5 351.5,128.6 353.8,77.8 356.2,25.9 358.6,20.5 361.0,66.7 363.3,121.9 365.7,135.4 368.1,94.8 370.4,37.4 372.8,16.0 375.2,50.3 377.5,108.7 379.9,137.6 382.3,110.3 384.7,52.0 387.0,16.3 389.4,35.9 391.8,92.9 394.1,134.9 396.5,123.2 398.9,68.6 401.2,21.3 403.6,24.8 406.0,75.8 408.4,127.5 410.7,132.4 413.1,85.9 415.5,30.8 417.8,17.8 420.2,58.8 422.6,116.1 424.9,137.0 427.3,102.3 429.7,43.9 432.1,15.5 434.4,43.2 436.8,101.6 439.2,136.9 441.5,116.8 443.9,59.6 446.3,18.1 448.6,30.2 451.0,85.0 453.4,132.0 455.8,128.0 458.1,76.7 460.5,25.3 462.9,21.0 465.2,67.8 467.6,122.6 470.0,135.1 472.3,93.8 474.7,36.6 477.1,16.1 479.5,51.2 481.8,109.6 484.2,137.6 486.6,109.4 488.9,51.0 491.3,16.1 493.7,36.7 496.0,94.0 498.4,135.2 500.8,122.5 503.2,67.6 505.5,20.9 507.9,25.4 510.3,76.9 512.6,128.1 515.0,131.9 517.4,84.8 519.7,30.1 522.1,18.1 524.5,59.9 526.9,116.9 529.2,136.9 531.6,101.4 534.0,43.0 536.3,15.5 538.7,44.1 541.1,102.5 542.5,129.2" fill="none" stroke="#8888ff" stroke-width="0.8" stroke-linejoin="round" />
<polyline points="305.5,137.6 305.8,130.2 306.1,123.1 306.4,116.3 306.7,109.9 307.0,103.7 307.3,97.9 307.6,92.3 307.9,87.1 308.2,82.2 308.5,77.5 308.8,73.2 309.1,69.1 309.4,65.4 309.6,61.9 309.9,58.8 310.2,55.9 310.5,53.3 310.8,51.0 311.1,49.0 311.4,47.2 311.7,45.7 312.0,44.5 312.3,43.6 312.6,43.0 312.9,42.6 313.2,42.5 313.5,43.0 313.8,44.4 314.1,46.6 314.4,49.5 314.7,53.1 315.0,57.2 315.3,61.8 315.6,66.9 315.9,72.3 316.2,77.9 316.5,83.8 316.8,89.7 317.1,95.7 317.4,101.7 317.6,107.5 317.9,113.2 318.2,118.6 318.5,123.6 318.8,128.3 319.1,132.4 319.4,136.0 319.7,138.9 320.0,141.1 320.3,142.5 320.6,143.0 320.9,142.6 321.2,141.2 321.5,139.0 321.8,135.9 322.1,132.2 322.4,127.9 322.7,123.0 323.0,117.7 323.3,112.0 323.6,106.0 323.9,99.8 324.2,93.5 324.5,87.1 324.8,80.7 325.1,74.5 325.3,68.4 325.6,62.6 325.9,57.2 326.2,52.2 326.5,47.7 326.8,43.8 327.1,40.6 327.4,38.2 327.7,36.6 328.0,35.9 328.3,36.2 328.6,37.3 328.9,39.4 329.2,42.1 329.5,45.6 329.8,49.6 330.1,54.2 330.4,59.2 330.7,64.5 331.0,70.2 331.3,76.1 331.6,82.1 331.9,88.2 332.2,94.2 332.5,100.2 332.8,105.9 333.1,111.5 333.3,116.7 333.6,121.5 333.9,125.8 334.2,129.6 334.5,132.7 334.8,135.1 335.1,136.8 335.4,137.5 335.7,137.4 336.0,136.3 336.3,134.3 336.6,131.6 336.9,128.1 337.2,124.0 337.5,119.4 337.8,114.3 338.1,108.8 338.4,103.0 338.7,97.0 339.0,90.8 339.3,84.6 339.6,78.3 339.9,72.2 340.2,66.2 340.5,60.4 340.8,55.0 341.1,50.0 341.3,45.5 341.6,41.5 341.9,38.2 342.2,35.6 342.5,33.8 342.8,32.9 343.1,32.9 343.4,33.9 343.7,35.7 344.0,38.3 344.3,41.5 344.6,45.4 344.9,49.9 345.2,54.8 345.5,60.0 345.8,65.6 346.1,71.5 346.4,77.4 346.7,83.5 347.0,89.6 347.3,95.5 347.6,101.4 347.9,107.0 348.2,112.3 348.5,117.2 348.8,121.7 349.0,125.6 349.3,128.9 349.6,131.5 349.9,133.4 350.2,134.4 350.5,134.5 350.8,133.6 351.1,131.9 351.4,129.5 351.7,126.3 352.0,122.5 352.3,118.1 352.6,113.3 352.9,108.0 353.2,102.5 353.5,96.7 353.8,90.7 354.1,84.7 354.4,78.6 354.7,72.6 355.0,66.7 355.3,61.1 355.6,55.7 355.9,50.8 356.2,46.2 356.5,42.2 356.8,38.9 357.0,36.1 357.3,34.2 357.6,33.0 357.9,32.8 358.2,33.5 358.5,35.1 358.8,37.4 359.1,40.5 359.4,44.1 359.7,48.3 360.0,53.0 360.3,58.1 360.6,63.5 360.9,69.1 361.2,75.0 361.5,80.9 361.8,86.8 362.1,92.7 362.4,98.5 362.7,104.1 363.0,109.3 363.3,114.3 363.6,118.8 363.9,122.8 364.2,126.2 364.5,128.9 364.8,131.0 365.0,132.2 365.3,132.5 365.6,131.9 365.9,130.4 366.2,128.1 366.5,125.0 366.8,121.3 367.1,117.0 367.4,112.2 367.7,106.9 368.0,101.3 368.3,95.5 368.6,89.4 368.9,83.3 369.2,77.1 369.5,70.9 369.8,64.9 370.1,59.1 370.4,53.6 370.7,48.4 371.0,43.6 371.3,39.4 371.6,35.8 371.9,32.8 372.2,30.6 372.5,29.2 372.7,28.7 373.0,29.2 373.3,30.6 373.6,32.8 373.9,35.8 374.2,39.4 374.5,43.6 374.8,48.3 375.1,53.5 375.4,59.0 375.7,64.8 376.0,70.8 376.3,76.9 376.6,83.0 376.9,89.1 377.2,95.1 377.5,101.0 377.8,106.5 378.1,111.7 378.4,116.5 378.7,120.8 379.0,124.5 379.3,127.5 379.6,129.8 379.9,131.3 380.2,131.9 380.5,131.5 380.7,130.2 381.0,128.1 381.3,125.2 381.6,121.6 381.9,117.4 382.2,112.7 382.5,107.5 382.8,102.0 383.1,96.1 383.4,90.1 383.7,83.9 384.0,77.6 384.3,71.4 384.6,65.3 384.9,59.4 385.2,53.7 385.5,48.4 385.8,43.5 386.1,39.0 386.4,35.2 386.7,32.0 387.0,29.6 387.3,28.0 387.6,27.2 387.9,27.5 388.2,28.6 388.4,30.6 388.7,33.4 389.0,36.8 389.3,40.9 389.6,45.5 389.9,50.6 390.2,56.0 390.5,61.7 390.8,67.7 391.1,73.8 391.4,79.9 391.7,86.1 392.0,92.1 392.3,98.0 392.6,103.6 392.9,108.9 393.2,113.8 393.5,118.3 393.8,122.1 394.1,125.3 394.4,127.8 394.7,129.6 395.0,130.4 395.3,130.3 395.6,129.3 395.9,127.5 396.2,124.8 396.4,121.6 396.7,117.7 397.0,113.3 397.3,108.4 397.6,103.1 397.9,97.6 398.2,91.8 398.5,85.9 398.8,79.9 399.1,73.9 399.4,68.0 399.7,62.2 400.0,56.7 400.3,51.4 400.6,46.6 400.9,42.2 401.2,38.4 401.5,35.1 401.8,32.6 402.1,30.8 402.4,29.9 402.7,29.8 403.0,30.7 403.3,32.4 403.6,34.9 403.9,38.0 404.2,41.8 404.4,46.0 404.7,50.7 405.0,55.8 405.3,61.2 405.6,66.9 405.9,72.7 406.2,78.6 406.5,84.4 406.8,90.2 407.1,95.9 407.4,101.4 407.7,106.5 408.0,111.3 408.3,115.7 408.6,119.5 408.9,122.8 409.2,125.4 409.5,127.2 409.8,128.2 410.1,128.4 410.4,127.6 410.7,126.0 411.0,123.5 411.3,120.4 411.6,116.6 411.9,112.3 412.1,107.5 412.4,102.3 412.7,96.7 413.0,90.9 413.3,85.0 413.6,78.9 413.9,72.9 414.2,66.9 414.5,61.0 414.8,55.3 415.1,50.0 415.4,45.0 415.7,40.4 416.0,36.4 416.3,32.9 416.6,30.2 416.9,28.2 417.2,27.0 417.5,26.7 417.8,27.4 418.1,28.9 418.4,31.3 418.7,34.4 419.0,38.1 419.3,42.4 419.6,47.2 419.9,52.4 420.1,58.0 420.4,63.8 420.7,69.8 421.0,75.9 421.3,82.0 421.6,88.1 421.9,94.0 422.2,99.8 422.5,105.3 422.8,110.4 423.1,115.0 423.4,119.2 423.7,122.7 424.0,125.6 424.3,127.7 424.6,129.1 424.9,129.5 425.2,128.9 425.5,127.5 425.8,125.2 426.1,122.2 426.4,118.6 426.7,114.3 427.0,109.6 427.3,104.4 427.6,98.9 427.9,93.2 428.1,87.2 428.4,81.1 428.7,75.0 429.0,68.9 429.3,62.9 429.6,57.1 429.9,51.6 430.2,46.4 430.5,41.7 430.8,37.5 431.1,33.9 431.4,30.9 431.7,28.6 432.0,27.2 432.3,26.7 432.6,27.1 432.9,28.4 433.2,30.5 433.5,33.3 433.8,36.7 434.1,40.8 434.4,45.3 434.7,50.3 435.0,55.6 435.3,61.2 435.6,66.9 435.9,72.8 436.1,78.8 436.4,84.7 436.7,90.5 437.0,96.2 437.3,101.5 437.6,106.6 437.9,111.2 438.2,115.4 438.5,119.0 438.8,122.0 439.1,124.3 439.4,125.8 439.7,126.4 440.0,126.1 440.3,124.9 440.6,123.0 440.9,120.3 441.2,116.9 441.5,113.0 441.8,108.5 442.1,103.6 442.4,98.4 442.7,92.9 443.0,87.1 443.3,81.3 443.6,75.4 443.8,69.5 444.1,63.7 444.4,58.0 444.7,52.6 445.0,47.6 445.3,42.9 445.6,38.7 445.9,35.0 446.2,31.9 446.5,29.6 446.8,28.0 447.1,27.2 447.4,27.4 447.7,28.5 448.0,30.4 448.3,33.0 448.6,36.3 448.9,40.2 449.2,44.7 449.5,49.5 449.8,54.8 450.1,60.3 450.4,66.1 450.7,72.0 451.0,78.0 451.3,83.9 451.6,89.8 451.8,95.5 452.1,101.0 452.4,106.2 452.7,111.0 453.0,115.3 453.3,119.1 453.6,122.3 453.9,124.7 454.2,126.5 454.5,127.3 454.8,127.3 455.1,126.3 455.4,124.5 455.7,122.0 456.0,118.7 456.3,114.9 456.6,110.5 456.9,105.6 457.2,100.4 457.5,94.9 457.8,89.1 458.1,83.2 458.4,77.2 458.7,71.2 459.0,65.3 459.3,59.5 459.6,53.9 459.8,48.7 460.1,43.8 460.4,39.4 460.7,35.5 461.0,32.3 461.3,29.7 461.6,27.8 461.9,26.9 462.2,26.8 462.5,27.6 462.8,29.3 463.1,31.8 463.4,34.9 463.7,38.7 464.0,43.0 464.3,47.8 464.6,53.0 464.9,58.5 465.2,64.2 465.5,70.1 465.8,76.1 466.1,82.1 466.4,88.1 466.7,93.9 467.0,99.5 467.3,104.7 467.5,109.7 467.8,114.1 468.1,118.1 468.4,121.5 468.7,124.1 469.0,126.1 469.3,127.2 469.6,127.4 469.9,126.7 470.2,125.1 470.5,122.7 470.8,119.7 471.1,116.0 471.4,111.7 471.7,107.0 472.0,101.8 472.3,96.4 472.6,90.7 472.9,84.8 473.2,78.8 473.5,72.8 473.8,66.8 474.1,61.0 474.4,55.4 474.7,50.1 475.0,45.1 475.3,40.5 475.5,36.5 475.8,33.1 476.1,30.3 476.4,28.3 476.7,27.0 477.0,26.7 477.3,27.3 477.6,28.8 477.9,31.0 478.2,34.0 478.5,37.6 478.8,41.8 479.1,46.5 479.4,51.6 479.7,57.0 480.0,62.7 480.3,68.6 480.6,74.5 480.9,80.5 481.2,86.5 481.5,92.4 481.8,98.0 482.1,103.4 482.4,108.4 482.7,113.0 483.0,117.1 483.2,120.6 483.5,123.5 483.8,125.6 484.1,127.0 484.4,127.4 484.7,126.9 485.0,125.6 485.3,123.4 485.6,120.5 485.9,117.0 486.2,112.9 486.5,108.3 486.8,103.2 487.1,97.8 487.4,92.2 487.7,86.3 488.0,80.4 488.3,74.4 488.6,68.4 488.9,62.5 489.2,56.9 489.5,51.4 489.8,46.4 490.1,41.7 490.4,37.5 490.7,33.9 491.0,31.0 491.2,28.7 491.5,27.3 491.8,26.7 492.1,27.1 492.4,28.3 492.7,30.4 493.0,33.2 493.3,36.6 493.6,40.7 493.9,45.2 494.2,50.2 494.5,55.5 494.8,61.2 495.1,67.0 495.4,72.9 495.7,79.0 496.0,84.9 496.3,90.8 496.6,96.5 496.9,102.0 497.2,107.1 497.5,111.8 497.8,116.1 498.1,119.8 498.4,122.8 498.7,125.1 499.0,126.7 499.2,127.4 499.5,127.2 499.8,126.0 500.1,124.1 500.4,121.4 500.7,118.0 501.0,114.0 501.3,109.5 501.6,104.6 501.9,99.3 502.2,93.7 502.5,87.9 502.8,82.0 503.1,76.0 503.4,70.0 503.7,64.1 504.0,58.3 504.3,52.8 504.6,47.7 504.9,42.9 505.2,38.6 505.5,34.8 505.8,31.7 506.1,29.2 506.4,27.6 506.7,26.8 506.9,26.9 507.2,27.9 507.5,29.7 507.8,32.3 508.1,35.6 508.4,39.5 508.7,44.0 509.0,48.8 509.3,54.1 509.6,59.6 509.9,65.4 510.2,71.4 510.5,77.4 510.8,83.4 511.1,89.3 511.4,95.0 511.7,100.6 512.0,105.8 512.3,110.6 512.6,115.0 512.9,118.8 513.2,122.1 513.5,124.6 513.8,126.4 514.1,127.3 514.4,127.3 514.7,126.4 514.9,124.7 515.2,122.2 515.5,119.0 515.8,115.1 516.1,110.8 516.4,106.0 516.7,100.7 517.0,95.2 517.3,89.5 517.6,83.6 517.9,77.6 518.2,71.6 518.5,65.6 518.8,59.8 519.1,54.3 519.4,49.0 519.7,44.1 520.0,39.7 520.3,35.8 520.6,32.4 520.9,29.8 521.2,27.9 521.5,26.9 521.8,26.8 522.1,27.5 522.4,29.2 522.7,31.6 522.9,34.7 523.2,38.4 523.5,42.7 523.8,47.5 524.1,52.7 524.4,58.1 524.7,63.9 525.0,69.8 525.3,75.8 525.6,81.8 525.9,87.7 526.2,93.5 526.5,99.1 526.8,104.4 527.1,109.4 527.4,113.9 527.7,117.9 528.0,121.3 528.3,124.0 528.6,126.0 528.9,127.1 529.2,127.4 529.5,126.7 529.8,125.2 530.1,122.9 530.4,119.9 530.6,116.2 530.9,112.0 531.2,107.3 531.5,102.2 531.8,96.7 532.1,91.0 532.4,85.1 532.7,79.2 533.0,73.1 533.3,67.2 533.6,61.4 533.9,55.7 534.2,50.4 534.5,45.4 534.8,40.8 535.1,36.7 535.4,33.3 535.7,30.4 536.0,28.4 536.3,27.1 536.6,26.7 536.9,27.2 537.2,28.7 537.5,30.9 537.8,33.8 538.1,37.4 538.4,41.5 538.6,46.2 538.9,51.3 539.2,56.7 539.5,62.3 539.8,68.2 540.1,74.2 540.4,80.2 540.7,86.1 541.0,92.0 541.3,97.7 541.6,103.1 541.9,108.1 542.2,112.7 542.5,116.9" fill="none" stroke="#86c386" stroke-width="0.9" stroke-linejoin="round" stroke-dasharray="2.6,0.7"/>
<polyline points="305.5,142.7 305.8,146.1 306.1,148.9 306.4,149.8 306.7,149.2 307.0,147.8 307.3,145.6 307.6,142.8 307.9,139.5 308.2,135.6 308.5,131.3 308.8,126.6 309.1,121.6 309.4,116.5 309.6,111.2 309.9,105.8 310.2,100.5 310.5,95.2 310.8,90.2 311.1,85.3 311.4,80.8 311.7,76.7 312.0,73.0 312.3,69.9 312.6,67.4 312.9,65.6 313.2,64.6 313.5,64.4 313.8,65.0 314.1,66.3 314.4,68.3 314.7,70.8 315.0,74.0 315.3,77.5 315.6,81.5 315.9,85.8 316.2,90.4 316.5,95.3 316.8,100.2 317.1,105.3 317.4,110.3 317.6,115.3 317.9,120.2 318.2,125.0 318.5,129.5 318.8,133.7 319.1,137.5 319.4,140.9 319.7,143.8 320.0,146.1 320.3,147.9 320.6,148.9 320.9,149.2 321.2,148.6 321.5,147.3 321.8,145.1 322.1,142.3 322.4,138.9 322.7,135.0 323.0,130.6 323.3,125.8 323.6,120.7 323.9,115.3 324.2,109.8 324.5,104.1 324.8,98.5 325.1,92.8 325.3,87.3 325.6,82.0 325.9,76.9 326.2,72.2 326.5,67.8 326.8,63.9 327.1,60.6 327.4,57.9 327.7,55.9 328.0,54.6 328.3,54.2 328.6,54.6 328.9,55.7 329.2,57.6 329.5,60.1 329.8,63.2 330.1,66.7 330.4,70.7 330.7,75.1 331.0,79.7 331.3,84.6 331.6,89.7 331.9,94.8 332.2,100.0 332.5,105.2 332.8,110.3 333.1,115.2 333.3,119.9 333.6,124.3 333.9,128.3 334.2,131.9 334.5,135.1 334.8,137.6 335.1,139.6 335.4,140.9 335.7,141.4 336.0,141.0 336.3,139.9 336.6,138.0 336.9,135.4 337.2,132.2 337.5,128.5 337.8,124.3 338.1,119.7 338.4,114.7 338.7,109.5 339.0,104.1 339.3,98.6 339.6,93.0 339.9,87.5 340.2,82.0 340.5,76.7 340.8,71.7 341.1,66.9 341.3,62.6 341.6,58.6 341.9,55.2 342.2,52.4 342.5,50.2 342.8,48.7 343.1,48.1 343.4,48.3 343.7,49.3 344.0,50.9 344.3,53.3 344.6,56.2 344.9,59.7 345.2,63.5 345.5,67.8 345.8,72.4 346.1,77.3 346.4,82.3 346.7,87.5 347.0,92.7 347.3,97.9 347.6,103.0 347.9,108.0 348.2,112.8 348.5,117.3 348.8,121.4 349.0,125.2 349.3,128.5 349.6,131.2 349.9,133.3 350.2,134.8 350.5,135.5 350.8,135.4 351.1,134.5 351.4,132.9 351.7,130.5 352.0,127.6 352.3,124.1 352.6,120.1 352.9,115.7 353.2,111.0 353.5,106.0 353.8,100.8 354.1,95.5 354.4,90.1 354.7,84.7 355.0,79.4 355.3,74.2 355.6,69.2 355.9,64.5 356.2,60.2 356.5,56.2 356.8,52.8 357.0,49.9 357.3,47.6 357.6,46.0 357.9,45.1 358.2,45.1 358.5,45.9 358.8,47.4 359.1,49.6 359.4,52.3 359.7,55.6 360.0,59.4 360.3,63.6 360.6,68.1 360.9,72.9 361.2,77.9 361.5,83.1 361.8,88.3 362.1,93.5 362.4,98.6 362.7,103.7 363.0,108.5 363.3,113.1 363.6,117.3 363.9,121.2 364.2,124.6 364.5,127.5 364.8,129.8 365.0,131.4 365.3,132.3 365.6,132.5 365.9,131.8 366.2,130.3 366.5,128.0 366.8,125.2 367.1,121.8 367.4,117.8 367.7,113.4 368.0,108.7 368.3,103.7 368.6,98.4 368.9,93.0 369.2,87.5 369.5,82.0 369.8,76.5 370.1,71.1 370.4,66.0 370.7,61.1 371.0,56.6 371.3,52.4 371.6,48.7 371.9,45.6 372.2,43.1 372.5,41.3 372.7,40.2 373.0,39.9 373.3,40.5 373.6,41.9 373.9,43.9 374.2,46.6 374.5,49.9 374.8,53.6 375.1,57.8 375.4,62.3 375.7,67.2 376.0,72.2 376.3,77.4 376.6,82.8 376.9,88.1 377.2,93.4 377.5,98.6 377.8,103.6 378.1,108.4 378.4,112.8 378.7,116.9 379.0,120.5 379.3,123.6 379.6,126.1 379.9,128.0 380.2,129.1 380.5,129.5 380.7,129.0 381.0,127.7 381.3,125.7 381.6,123.0 381.9,119.8 382.2,116.0 382.5,111.8 382.8,107.2 383.1,102.3 383.4,97.1 383.7,91.8 384.0,86.4 384.3,80.9 384.6,75.5 384.9,70.2 385.2,65.0 385.5,60.1 385.8,55.5 386.1,51.3 386.4,47.5 386.7,44.3 387.0,41.6 387.3,39.6 387.6,38.4 387.9,37.9 388.2,38.3 388.4,39.4 388.7,41.3 389.0,43.8 389.3,46.9 389.6,50.5 389.9,54.6 390.2,59.0 390.5,63.8 390.8,68.8 391.1,74.0 391.4,79.3 391.7,84.7 392.0,90.0 392.3,95.2 392.6,100.2 392.9,105.1 393.2,109.6 393.5,113.8 393.8,117.5 394.1,120.8 394.4,123.5 394.7,125.5 395.0,126.8 395.3,127.4 395.6,127.2 395.9,126.1 396.2,124.3 396.4,121.9 396.7,118.9 397.0,115.3 397.3,111.3 397.6,106.9 397.9,102.1 398.2,97.2 398.5,92.0 398.8,86.7 399.1,81.4 399.4,76.0 399.7,70.8 400.0,65.7 400.3,60.9 400.6,56.3 400.9,52.0 401.2,48.2 401.5,44.9 401.8,42.2 402.1,40.0 402.4,38.6 402.7,37.9 403.0,38.1 403.3,39.0 403.6,40.6 403.9,42.9 404.2,45.7 404.4,49.1 404.7,52.9 405.0,57.2 405.3,61.7 405.6,66.5 405.9,71.4 406.2,76.5 406.5,81.7 406.8,86.8 407.1,91.9 407.4,96.8 407.7,101.6 408.0,106.0 408.3,110.2 408.6,113.9 408.9,117.2 409.2,119.9 409.5,122.1 409.8,123.5 410.1,124.3 410.4,124.2 410.7,123.4 411.0,121.8 411.3,119.5 411.6,116.7 411.9,113.2 412.1,109.3 412.4,105.0 412.7,100.4 413.0,95.5 413.3,90.3 413.6,85.1 413.9,79.7 414.2,74.4 414.5,69.1 414.8,64.0 415.1,59.1 415.4,54.4 415.7,50.1 416.0,46.2 416.3,42.7 416.6,39.8 416.9,37.5 417.2,35.9 417.5,35.0 417.8,34.9 418.1,35.7 418.4,37.2 418.7,39.4 419.0,42.2 419.3,45.6 419.6,49.5 419.9,53.8 420.1,58.5 420.4,63.4 420.7,68.6 421.0,73.9 421.3,79.3 421.6,84.7 421.9,90.0 422.2,95.2 422.5,100.2 422.8,105.0 423.1,109.4 423.4,113.4 423.7,117.0 424.0,120.0 424.3,122.4 424.6,124.2 424.9,125.2 425.2,125.4 425.5,124.7 425.8,123.3 426.1,121.1 426.4,118.3 426.7,115.0 427.0,111.1 427.3,106.8 427.6,102.1 427.9,97.2 428.1,92.0 428.4,86.6 428.7,81.2 429.0,75.7 429.3,70.3 429.6,65.0 429.9,59.9 430.2,55.1 430.5,50.5 430.8,46.4 431.1,42.8 431.4,39.6 431.7,37.1 432.0,35.2 432.3,34.1 432.6,33.8 432.9,34.3 433.2,35.6 433.5,37.6 433.8,40.2 434.1,43.4 434.4,47.1 434.7,51.2 435.0,55.7 435.3,60.4 435.6,65.4 435.9,70.6 436.1,75.8 436.4,81.1 436.7,86.4 437.0,91.5 437.3,96.5 437.6,101.2 437.9,105.6 438.2,109.7 438.5,113.3 438.8,116.4 439.1,118.9 439.4,120.8 439.7,121.9 440.0,122.3 440.3,121.9 440.6,120.8 440.9,118.9 441.2,116.4 441.5,113.4 441.8,109.9 442.1,105.9 442.4,101.6 442.7,97.0 443.0,92.1 443.3,87.1 443.6,82.0 443.8,76.8 444.1,71.7 444.4,66.6 444.7,61.8 445.0,57.1 445.3,52.7 445.6,48.7 445.9,45.2 446.2,42.1 446.5,39.5 446.8,37.6 447.1,36.4 447.4,35.9 447.7,36.2 448.0,37.2 448.3,39.0 448.6,41.3 448.9,44.3 449.2,47.7 449.5,51.5 449.8,55.8 450.1,60.3 450.4,65.1 450.7,70.0 451.0,75.1 451.3,80.2 451.6,85.3 451.8,90.2 452.1,95.1 452.4,99.7 452.7,104.1 453.0,108.1 453.3,111.7 453.6,114.8 453.9,117.4 454.2,119.4 454.5,120.7 454.8,121.3 455.1,121.1 455.4,120.1 455.7,118.4 456.0,116.1 456.3,113.2 456.6,109.8 456.9,106.0 457.2,101.7 457.5,97.2 457.8,92.4 458.1,87.4 458.4,82.3 458.7,77.2 459.0,72.0 459.3,66.9 459.6,62.0 459.8,57.3 460.1,52.9 460.4,48.8 460.7,45.1 461.0,41.8 461.3,39.1 461.6,37.0 461.9,35.6 462.2,34.9 462.5,35.0 462.8,35.9 463.1,37.4 463.4,39.7 463.7,42.5 464.0,45.8 464.3,49.6 464.6,53.8 464.9,58.3 465.2,63.1 465.5,68.1 465.8,73.2 466.1,78.3 466.4,83.5 466.7,88.5 467.0,93.5 467.3,98.2 467.5,102.7 467.8,106.9 468.1,110.6 468.4,113.9 468.7,116.7 469.0,118.9 469.3,120.4 469.6,121.2 469.9,121.2 470.2,120.5 470.5,119.0 470.8,116.8 471.1,114.1 471.4,110.8 471.7,107.0 472.0,102.9 472.3,98.4 472.6,93.7 472.9,88.7 473.2,83.7 473.5,78.5 473.8,73.4 474.1,68.3 474.4,63.3 474.7,58.5 475.0,54.0 475.3,49.8 475.5,46.0 475.8,42.6 476.1,39.8 476.4,37.5 476.7,35.9 477.0,35.0 477.3,34.9 477.6,35.6 477.9,37.0 478.2,39.0 478.5,41.7 478.8,44.9 479.1,48.6 479.4,52.7 479.7,57.1 480.0,61.8 480.3,66.7 480.6,71.8 480.9,76.9 481.2,82.1 481.5,87.2 481.8,92.2 482.1,97.0 482.4,101.6 482.7,105.8 483.0,109.7 483.2,113.1 483.5,116.0 483.8,118.4 484.1,120.1 484.4,121.1 484.7,121.3 485.0,120.7 485.3,119.4 485.6,117.4 485.9,114.8 486.2,111.7 486.5,108.1 486.8,104.0 487.1,99.6 487.4,95.0 487.7,90.1 488.0,85.0 488.3,79.9 488.6,74.7 488.9,69.6 489.2,64.6 489.5,59.8 489.8,55.2 490.1,50.9 490.4,47.0 490.7,43.5 491.0,40.5 491.2,38.1 491.5,36.3 491.8,35.2 492.1,34.8 492.4,35.3 492.7,36.5 493.0,38.4 493.3,40.9 493.6,44.0 493.9,47.6 494.2,51.6 494.5,55.9 494.8,60.5 495.1,65.4 495.4,70.4 495.7,75.6 496.0,80.7 496.3,85.9 496.6,90.9 496.9,95.7 497.2,100.4 497.5,104.7 497.8,108.7 498.1,112.2 498.4,115.3 498.7,117.8 499.0,119.7 499.2,120.9 499.5,121.3 499.8,121.0 500.1,119.8 500.4,118.0 500.7,115.6 501.0,112.6 501.3,109.1 501.6,105.1 501.9,100.8 502.2,96.2 502.5,91.4 502.8,86.4 503.1,81.3 503.4,76.1 503.7,71.0 504.0,65.9 504.3,61.0 504.6,56.4 504.9,52.0 505.2,48.0 505.5,44.4 505.8,41.2 506.1,38.6 506.4,36.7 506.7,35.4 506.9,34.8 507.2,35.1 507.5,36.1 507.8,37.8 508.1,40.2 508.4,43.1 508.7,46.6 509.0,50.5 509.3,54.7 509.6,59.3 509.9,64.1 510.2,69.1 510.5,74.2 510.8,79.4 511.1,84.5 511.4,89.6 511.7,94.5 512.0,99.2 512.3,103.6 512.6,107.7 512.9,111.3 513.2,114.5 513.5,117.2 513.8,119.3 514.1,120.6 514.4,121.3 514.7,121.1 514.9,120.2 515.2,118.6 515.5,116.3 515.8,113.4 516.1,110.1 516.4,106.2 516.7,102.0 517.0,97.5 517.3,92.7 517.6,87.7 517.9,82.6 518.2,77.5 518.5,72.3 518.8,67.3 519.1,62.3 519.4,57.6 519.7,53.1 520.0,49.0 520.3,45.3 520.6,42.0 520.9,39.3 521.2,37.1 521.5,35.7 521.8,34.9 522.1,35.0 522.4,35.8 522.7,37.3 522.9,39.5 523.2,42.3 523.5,45.6 523.8,49.4 524.1,53.6 524.4,58.1 524.7,62.8 525.0,67.8 525.3,72.8 525.6,78.0 525.9,83.1 526.2,88.2 526.5,93.2 526.8,98.0 527.1,102.5 527.4,106.6 527.7,110.4 528.0,113.7 528.3,116.5 528.6,118.8 528.9,120.3 529.2,121.2 529.5,121.2 529.8,120.5 530.1,119.1 530.4,117.0 530.6,114.2 530.9,111.0 531.2,107.3 531.5,103.2 531.8,98.7 532.1,94.0 532.4,89.1 532.7,84.0 533.0,78.8 533.3,73.7 533.6,68.6 533.9,63.6 534.2,58.8 534.5,54.3 534.8,50.1 535.1,46.2 535.4,42.8 535.7,39.9 536.0,37.6 536.3,36.0 536.6,35.0 536.9,34.9 537.2,35.5 537.5,36.8 537.8,38.9 538.1,41.5 538.4,44.7 538.6,48.4 538.9,52.4 539.2,56.8 539.5,61.5 539.8,66.4 540.1,71.5 540.4,76.6 540.7,81.8 541.0,86.9 541.3,91.9 541.6,96.7 541.9,101.3 542.2,105.6 542.5,109.5" fill="none" stroke="#ff7474" stroke-width="0.9" stroke-linejoin="round" stroke-dasharray="2.6,0.7"/>
<line x1="305.50" y1="15.50" x2="305.50" y2="178.30" stroke="#a8a8a8" stroke-width="0.8"/>
<line x1="305.50" y1="178.30" x2="542.50" y2="178.30" stroke="#c4c4c4" stroke-width="0.8"/>
<line x1="305.50" y1="178.30" x2="307.90" y2="178.30" stroke="#a8a8a8" stroke-width="0.7"/>
<text x="304.50" y="180.93" text-anchor="end" font-size="6.75">9.6</text>
<line x1="305.50" y1="157.95" x2="307.90" y2="157.95" stroke="#a8a8a8" stroke-width="0.7"/>
<text x="304.50" y="160.58" text-anchor="end" font-size="6.75">9.8</text>
<line x1="305.50" y1="137.60" x2="307.90" y2="137.60" stroke="#a8a8a8" stroke-width="0.7"/>
<text x="304.50" y="140.23" text-anchor="end" font-size="6.75">10</text>
<line x1="305.50" y1="117.25" x2="307.90" y2="117.25" stroke="#a8a8a8" stroke-width="0.7"/>
<text x="304.50" y="119.88" text-anchor="end" font-size="6.75">10.2</text>
<line x1="305.50" y1="96.90" x2="307.90" y2="96.90" stroke="#a8a8a8" stroke-width="0.7"/>
<text x="304.50" y="99.53" text-anchor="end" font-size="6.75">10.4</text>
<line x1="305.50" y1="76.55" x2="307.90" y2="76.55" stroke="#a8a8a8" stroke-width="0.7"/>
<text x="304.50" y="79.18" text-anchor="end" font-size="6.75">10.6</text>
<line x1="305.50" y1="56.20" x2="307.90" y2="56.20" stroke="#a8a8a8" stroke-width="0.7"/>
<text x="304.50" y="58.83" text-anchor="end" font-size="6.75">10.8</text>
<line x1="305.50" y1="35.85" x2="307.90" y2="35.85" stroke="#a8a8a8" stroke-width="0.7"/>
<text x="304.50" y="38.48" text-anchor="end" font-size="6.75">11</text>
<line x1="305.50" y1="15.50" x2="307.90" y2="15.50" stroke="#a8a8a8" stroke-width="0.7"/>
<text x="304.50" y="18.13" text-anchor="end" font-size="6.75">11.2</text>
<line x1="305.50" y1="178.30" x2="305.50" y2="175.90" stroke="#a8a8a8" stroke-width="0.7"/>
<text x="305.50" y="186.20" text-anchor="middle" font-size="6.75">0</text>
<line x1="329.20" y1="178.30" x2="329.20" y2="175.90" stroke="#a8a8a8" stroke-width="0.7"/>
<text x="329.20" y="186.20" text-anchor="middle" font-size="6.75">10</text>
<line x1="352.90" y1="178.30" x2="352.90" y2="175.90" stroke="#a8a8a8" stroke-width="0.7"/>
<text x="352.90" y="186.20" text-anchor="middle" font-size="6.75">20</text>
<line x1="376.60" y1="178.30" x2="376.60" y2="175.90" stroke="#a8a8a8" stroke-width="0.7"/>
<text x="376.60" y="186.20" text-anchor="middle" font-size="6.75">30</text>
<line x1="400.30" y1="178.30" x2="400.30" y2="175.90" stroke="#a8a8a8" stroke-width="0.7"/>
<text x="400.30" y="186.20" text-anchor="middle" font-size="6.75">40</text>
<line x1="424.00" y1="178.30" x2="424.00" y2="175.90" stroke="#a8a8a8" stroke-width="0.7"/>
<text x="424.00" y="186.20" text-anchor="middle" font-size="6.75">50</text>
<line x1="447.70" y1="178.30" x2="447.70" y2="175.90" stroke="#a8a8a8" stroke-width="0.7"/>
<text x="447.70" y="186.20" text-anchor="middle" font-size="6.75">60</text>
<line x1="471.40" y1="178.30" x2="471.40" y2="175.90" stroke="#a8a8a8" stroke-width="0.7"/>
<text x="471.40" y="186.20" text-anchor="middle" font-size="6.75">70</text>
<line x1="495.10" y1="178.30" x2="495.10" y2="175.90" stroke="#a8a8a8" stroke-width="0.7"/>
<text x="495.10" y="186.20" text-anchor="middle" font-size="6.75">80</text>
<line x1="518.80" y1="178.30" x2="518.80" y2="175.90" stroke="#a8a8a8" stroke-width="0.7"/>
<text x="518.80" y="186.20" text-anchor="middle" font-size="6.75">90</text>
<line x1="542.50" y1="178.30" x2="542.50" y2="175.90" stroke="#a8a8a8" stroke-width="0.7"/>
<text x="542.50" y="186.20" text-anchor="middle" font-size="6.75">100</text>
<text x="424.00" y="194.00" text-anchor="middle" font-size="6.75">simulation time</text>
<text transform="translate(287.00,97.00) rotate(-90)" x="0" y="0" text-anchor="middle" font-size="6.75">speed(m/s)</text>
<line x1="452.30" y1="143.20" x2="464.60" y2="143.20" stroke="#9c9cff" stroke-width="0.9" stroke-width="1.5"/>
<text x="466.50" y="145.67" font-size="6.85">the 1st vehicle</text>
<line x1="452.30" y1="152.30" x2="464.60" y2="152.30" stroke="#86c386" stroke-width="0.9" stroke-dasharray="1.6,1.2"/>
<text x="466.50" y="154.77" font-size="6.85">the 1st CACC vehicle</text>
<line x1="452.30" y1="161.40" x2="464.60" y2="161.40" stroke="#ff7474" stroke-width="0.9" stroke-dasharray="2.4,1.0"/>
<text x="466.50" y="163.87" font-size="6.85">the 2nd CACC vehicle</text>
<circle cx="458.5" cy="152.3" r="0.7" fill="#3f9f3f"/>
<circle cx="458.5" cy="161.4" r="0.7" fill="#ff4040"/>
<polyline points="36.4,319.0 36.8,318.4 39.1,298.0 41.4,265.6 43.6,250.9 45.9,267.5 48.2,300.1 50.5,318.8 52.7,306.3 55.0,274.2 57.3,252.0 59.6,260.0 61.8,291.0 64.1,316.4 66.4,312.8 68.7,283.6 70.9,255.6 73.2,254.6 75.5,281.4 77.8,311.5 80.0,317.2 82.3,293.2 84.6,261.6 86.9,251.5 89.1,272.1 91.4,304.5 93.7,318.9 96.0,302.1 98.3,269.5 100.5,251.1 102.8,263.8 105.1,295.9 107.4,318.0 109.6,309.6 111.9,278.6 114.2,253.4 116.5,257.2 118.7,286.5 121.0,314.4 123.3,315.2 125.6,288.2 127.8,258.2 130.1,252.8 132.4,277.0 134.7,308.5 136.9,318.3 139.2,297.5 141.5,265.1 143.8,251.0 146.0,268.0 148.3,300.6 150.6,318.8 152.9,305.8 155.2,273.6 157.4,251.8 159.7,260.5 162.0,291.6 164.3,316.6 166.5,312.5 168.8,283.0 171.1,255.3 173.4,254.8 175.6,282.0 177.9,311.9 180.2,317.0 182.5,292.6 184.7,261.2 187.0,251.6 189.3,272.7 191.6,305.0 193.8,318.9 196.1,301.6 198.4,268.9 200.7,251.0 202.9,264.3 205.2,296.5 207.5,318.1 209.8,309.2 212.1,278.0 214.3,253.1 216.6,257.5 218.9,287.1 221.2,314.7 223.4,314.9 225.7,287.6 228.0,257.8 230.3,253.0 232.5,277.5 234.8,308.9 237.1,318.2 239.4,296.9 241.6,264.6 243.9,251.0 246.2,268.6 248.5,301.2 250.7,318.9 253.0,305.3 255.3,273.1 257.6,251.7 259.8,260.9 262.1,292.2 264.0,314.3" fill="none" stroke="#7c7cff" stroke-width="0.7" stroke-linejoin="round" />
<polyline points="36.4,317.2 36.7,317.3 37.0,317.4 37.3,317.7 37.5,318.0 37.8,318.4 38.1,318.9 38.4,319.4 38.7,320.4 39.0,322.7 39.2,325.8 39.5,329.4 39.8,333.1 40.1,336.6 40.4,340.3 40.7,344.4 41.0,348.6 41.2,352.8 41.5,356.9 41.8,360.8 42.1,364.6 42.4,368.8 42.7,373.1 42.9,376.9 43.2,380.0 43.5,381.8 43.8,382.1 44.1,381.2 44.4,379.5 44.7,377.3 44.9,374.8 45.2,372.2 45.5,370.0 45.8,367.9 46.1,365.7 46.4,363.4 46.6,361.2 46.9,358.8 47.2,356.5 47.5,354.2 47.8,351.8 48.1,349.5 48.3,347.2 48.6,344.9 48.9,342.5 49.2,340.1 49.5,337.7 49.8,335.3 50.1,332.7 50.3,329.7 50.6,326.4 50.9,323.0 51.2,319.7 51.5,316.7 51.8,314.0 52.0,312.0 52.3,310.8 52.6,310.4 52.9,310.5 53.2,310.6 53.5,310.8 53.8,311.0 54.0,311.3 54.3,311.6 54.6,311.9 54.9,312.2 55.2,312.6 55.5,312.9 55.7,313.2 56.0,313.5 56.3,313.8 56.6,314.0 56.9,314.2 57.2,314.3 57.5,314.4 57.7,314.4 58.0,314.2 58.3,313.8 58.6,313.3 58.9,312.7 59.2,311.9 59.4,311.1 59.7,310.1 60.0,309.1 60.3,308.0 60.6,306.9 60.9,305.7 61.2,304.5 61.4,303.3 61.7,302.1 62.0,300.9 62.3,299.8 62.6,298.7 62.9,297.7 63.1,296.7 63.4,295.9 63.7,295.1 64.0,294.5 64.3,294.0 64.6,293.6 64.8,293.5 65.1,293.5 65.4,293.6 65.7,293.9 66.0,294.3 66.3,294.8 66.6,295.4 66.8,296.1 67.1,296.9 67.4,297.8 67.7,298.7 68.0,299.6 68.3,300.6 68.5,301.6 68.8,302.5 69.1,303.5 69.4,304.5 69.7,305.4 70.0,306.2 70.3,307.0 70.5,307.7 70.8,308.4 71.1,308.9 71.4,309.4 71.7,309.7 72.0,309.8 72.2,309.9 72.5,309.7 72.8,309.3 73.1,308.8 73.4,308.0 73.7,307.2 74.0,306.2 74.2,305.1 74.5,303.9 74.8,302.6 75.1,301.3 75.4,300.0 75.7,298.6 75.9,297.2 76.2,295.8 76.5,294.5 76.8,293.2 77.1,292.0 77.4,290.8 77.7,289.8 77.9,288.8 78.2,288.1 78.5,287.4 78.8,287.0 79.1,286.7 79.4,286.6 79.6,286.7 79.9,287.0 80.2,287.3 80.5,287.8 80.8,288.4 81.1,289.1 81.4,289.8 81.6,290.6 81.9,291.5 82.2,292.4 82.5,293.3 82.8,294.2 83.1,295.2 83.3,296.1 83.6,297.0 83.9,297.9 84.2,298.8 84.5,299.6 84.8,300.3 85.0,300.9 85.3,301.5 85.6,301.9 85.9,302.2 86.2,302.4 86.5,302.5 86.8,302.4 87.0,302.1 87.3,301.7 87.6,301.1 87.9,300.3 88.2,299.5 88.5,298.6 88.7,297.5 89.0,296.4 89.3,295.3 89.6,294.1 89.9,292.9 90.2,291.7 90.5,290.5 90.7,289.3 91.0,288.1 91.3,287.0 91.6,286.0 91.9,285.1 92.2,284.2 92.4,283.5 92.7,282.9 93.0,282.5 93.3,282.2 93.6,282.1 93.9,282.2 94.2,282.4 94.4,282.7 94.7,283.2 95.0,283.8 95.3,284.5 95.6,285.3 95.9,286.1 96.1,287.0 96.4,288.0 96.7,289.0 97.0,290.0 97.3,291.0 97.6,292.0 97.9,293.0 98.1,293.9 98.4,294.9 98.7,295.7 99.0,296.5 99.3,297.2 99.6,297.8 99.8,298.4 100.1,298.7 100.4,299.0 100.7,299.1 101.0,299.0 101.3,298.8 101.6,298.5 101.8,297.9 102.1,297.3 102.4,296.6 102.7,295.7 103.0,294.8 103.3,293.8 103.5,292.8 103.8,291.7 104.1,290.6 104.4,289.5 104.7,288.4 105.0,287.3 105.2,286.2 105.5,285.2 105.8,284.2 106.1,283.4 106.4,282.6 106.7,281.9 107.0,281.3 107.2,280.8 107.5,280.5 107.8,280.4 108.1,280.4 108.4,280.6 108.7,280.9 108.9,281.3 109.2,281.9 109.5,282.5 109.8,283.3 110.1,284.1 110.4,284.9 110.7,285.8 110.9,286.8 111.2,287.7 111.5,288.7 111.8,289.7 112.1,290.7 112.4,291.6 112.6,292.5 112.9,293.4 113.2,294.1 113.5,294.8 113.8,295.5 114.1,296.0 114.4,296.4 114.6,296.7 114.9,296.8 115.2,296.8 115.5,296.6 115.8,296.3 116.1,295.9 116.3,295.3 116.6,294.7 116.9,293.9 117.2,293.0 117.5,292.1 117.8,291.2 118.1,290.2 118.3,289.1 118.6,288.1 118.9,287.0 119.2,286.0 119.5,285.0 119.8,284.0 120.0,283.1 120.3,282.3 120.6,281.5 120.9,280.8 121.2,280.2 121.5,279.8 121.8,279.5 122.0,279.3 122.3,279.3 122.6,279.4 122.9,279.7 123.2,280.1 123.5,280.6 123.7,281.3 124.0,282.0 124.3,282.8 124.6,283.7 124.9,284.6 125.2,285.6 125.4,286.6 125.7,287.6 126.0,288.6 126.3,289.6 126.6,290.6 126.9,291.5 127.2,292.4 127.4,293.3 127.7,294.0 128.0,294.7 128.3,295.3 128.6,295.7 128.9,296.0 129.1,296.2 129.4,296.3 129.7,296.1 130.0,295.8 130.3,295.4 130.6,294.8 130.9,294.1 131.1,293.4 131.4,292.5 131.7,291.5 132.0,290.5 132.3,289.4 132.6,288.4 132.8,287.2 133.1,286.1 133.4,285.0 133.7,283.9 134.0,282.9 134.3,281.9 134.6,281.0 134.8,280.1 135.1,279.4 135.4,278.7 135.7,278.2 136.0,277.9 136.3,277.6 136.5,277.6 136.8,277.7 137.1,277.9 137.4,278.3 137.7,278.8 138.0,279.3 138.3,280.0 138.5,280.8 138.8,281.6 139.1,282.5 139.4,283.4 139.7,284.4 140.0,285.4 140.2,286.3 140.5,287.3 140.8,288.3 141.1,289.2 141.4,290.1 141.7,290.9 141.9,291.6 142.2,292.3 142.5,292.9 142.8,293.4 143.1,293.7 143.4,293.9 143.7,294.0 143.9,293.9 144.2,293.7 144.5,293.3 144.8,292.9 145.1,292.3 145.4,291.6 145.6,290.8 145.9,290.0 146.2,289.1 146.5,288.2 146.8,287.2 147.1,286.2 147.4,285.2 147.6,284.2 147.9,283.2 148.2,282.3 148.5,281.4 148.8,280.5 149.1,279.8 149.3,279.1 149.6,278.5 149.9,278.0 150.2,277.6 150.5,277.4 150.8,277.3 151.1,277.3 151.3,277.5 151.6,277.9 151.9,278.3 152.2,278.9 152.5,279.5 152.8,280.2 153.0,281.0 153.3,281.9 153.6,282.8 153.9,283.7 154.2,284.7 154.5,285.7 154.8,286.6 155.0,287.6 155.3,288.5 155.6,289.3 155.9,290.2 156.2,290.9 156.5,291.6 156.7,292.2 157.0,292.7 157.3,293.1 157.6,293.3 157.9,293.4 158.2,293.4 158.5,293.2 158.7,292.9 159.0,292.4 159.3,291.9 159.6,291.3 159.9,290.5 160.2,289.7 160.4,288.8 160.7,287.9 161.0,287.0 161.3,286.0 161.6,285.0 161.9,284.1 162.1,283.1 162.4,282.2 162.7,281.3 163.0,280.4 163.3,279.6 163.6,278.9 163.9,278.3 164.1,277.8 164.4,277.4 164.7,277.1 165.0,277.0 165.3,277.0 165.6,277.2 165.8,277.5 166.1,277.8 166.4,278.3 166.7,278.9 167.0,279.6 167.3,280.4 167.6,281.2 167.8,282.0 168.1,282.9 168.4,283.8 168.7,284.7 169.0,285.6 169.3,286.5 169.5,287.4 169.8,288.2 170.1,289.0 170.4,289.7 170.7,290.4 171.0,291.0 171.3,291.5 171.5,291.9 171.8,292.1 172.1,292.3 172.4,292.3 172.7,292.1 173.0,291.9 173.2,291.5 173.5,291.0 173.8,290.4 174.1,289.8 174.4,289.0 174.7,288.3 175.0,287.4 175.2,286.5 175.5,285.6 175.8,284.7 176.1,283.8 176.4,282.9 176.7,282.0 176.9,281.2 177.2,280.4 177.5,279.6 177.8,279.0 178.1,278.4 178.4,277.9 178.7,277.5 178.9,277.2 179.2,277.0 179.5,277.0 179.8,277.1 180.1,277.4 180.4,277.7 180.6,278.2 180.9,278.8 181.2,279.4 181.5,280.2 181.8,280.9 182.1,281.8 182.3,282.6 182.6,283.5 182.9,284.4 183.2,285.4 183.5,286.3 183.8,287.1 184.1,288.0 184.3,288.8 184.6,289.6 184.9,290.2 185.2,290.8 185.5,291.4 185.8,291.8 186.0,292.1 186.3,292.3 186.6,292.3 186.9,292.2 187.2,292.0 187.5,291.6 187.8,291.2 188.0,290.6 188.3,290.0 188.6,289.2 188.9,288.5 189.2,287.6 189.5,286.8 189.7,285.9 190.0,285.0 190.3,284.1 190.6,283.2 190.9,282.3 191.2,281.4 191.5,280.6 191.7,279.8 192.0,279.1 192.3,278.5 192.6,278.0 192.9,277.6 193.2,277.2 193.4,277.1 193.7,277.0 194.0,277.1 194.3,277.3 194.6,277.6 194.9,278.1 195.2,278.6 195.4,279.2 195.7,280.0 196.0,280.7 196.3,281.5 196.6,282.4 196.9,283.3 197.1,284.2 197.4,285.1 197.7,286.0 198.0,286.9 198.3,287.8 198.6,288.6 198.8,289.4 199.1,290.1 199.4,290.7 199.7,291.2 200.0,291.7 200.3,292.0 200.6,292.2 200.8,292.3 201.1,292.2 201.4,292.0 201.7,291.7 202.0,291.3 202.3,290.8 202.5,290.1 202.8,289.4 203.1,288.7 203.4,287.9 203.7,287.0 204.0,286.1 204.3,285.2 204.5,284.3 204.8,283.4 205.1,282.5 205.4,281.6 205.7,280.8 206.0,280.0 206.2,279.3 206.5,278.7 206.8,278.1 207.1,277.7 207.4,277.3 207.7,277.1 208.0,277.0 208.2,277.0 208.5,277.2 208.8,277.5 209.1,277.9 209.4,278.5 209.7,279.1 209.9,279.8 210.2,280.5 210.5,281.3 210.8,282.2 211.1,283.1 211.4,284.0 211.7,284.9 211.9,285.8 212.2,286.7 212.5,287.5 212.8,288.4 213.1,289.2 213.4,289.9 213.6,290.5 213.9,291.1 214.2,291.6 214.5,291.9 214.8,292.2 215.1,292.3 215.4,292.3 215.6,292.1 215.9,291.8 216.2,291.4 216.5,290.9 216.8,290.3 217.1,289.6 217.3,288.9 217.6,288.1 217.9,287.2 218.2,286.4 218.5,285.5 218.8,284.5 219.0,283.6 219.3,282.7 219.6,281.9 219.9,281.0 220.2,280.2 220.5,279.5 220.8,278.8 221.0,278.3 221.3,277.8 221.6,277.4 221.9,277.1 222.2,277.0 222.5,277.0 222.7,277.2 223.0,277.4 223.3,277.8 223.6,278.3 223.9,278.9 224.2,279.6 224.5,280.3 224.7,281.1 225.0,281.9 225.3,282.8 225.6,283.7 225.9,284.6 226.2,285.5 226.4,286.4 226.7,287.3 227.0,288.2 227.3,289.0 227.6,289.7 227.9,290.4 228.2,291.0 228.4,291.5 228.7,291.8 229.0,292.1 229.3,292.3 229.6,292.3 229.9,292.2 230.1,291.9 230.4,291.5 230.7,291.0 231.0,290.5 231.3,289.8 231.6,289.1 231.9,288.3 232.1,287.5 232.4,286.6 232.7,285.7 233.0,284.8 233.3,283.9 233.6,283.0 233.8,282.1 234.1,281.2 234.4,280.4 234.7,279.7 235.0,279.0 235.3,278.4 235.6,277.9 235.8,277.5 236.1,277.2 236.4,277.0 236.7,277.0 237.0,277.1 237.3,277.3 237.5,277.7 237.8,278.2 238.1,278.7 238.4,279.4 238.7,280.1 239.0,280.9 239.2,281.7 239.5,282.6 239.8,283.5 240.1,284.4 240.4,285.3 240.7,286.2 241.0,287.1 241.2,287.9 241.5,288.8 241.8,289.5 242.1,290.2 242.4,290.8 242.7,291.3 242.9,291.8 243.2,292.1 243.5,292.2 243.8,292.3 244.1,292.2 244.4,292.0 244.7,291.6 244.9,291.2 245.2,290.6 245.5,290.0 245.8,289.3 246.1,288.5 246.4,287.7 246.6,286.8 246.9,285.9 247.2,285.0 247.5,284.1 247.8,283.2 248.1,282.3 248.4,281.5 248.6,280.6 248.9,279.9 249.2,279.2 249.5,278.6 249.8,278.0 250.1,277.6 250.3,277.3 250.6,277.1 250.9,277.0 251.2,277.1 251.5,277.3 251.8,277.6 252.1,278.0 252.3,278.6 252.6,279.2 252.9,279.9 253.2,280.7 253.5,281.5 253.8,282.3 254.0,283.2 254.3,284.1 254.6,285.1 254.9,286.0 255.2,286.9 255.5,287.7 255.7,288.5 256.0,289.3 256.3,290.0 256.6,290.7 256.9,291.2 257.2,291.7 257.5,292.0 257.7,292.2 258.0,292.3 258.3,292.2 258.6,292.1 258.9,291.7 259.2,291.3 259.4,290.8 259.7,290.2 260.0,289.5 260.3,288.7 260.6,287.9 260.9,287.1 261.2,286.2 261.4,285.3 261.7,284.4 262.0,283.4 262.3,282.6 262.6,281.7 262.9,280.9 263.1,280.1 263.4,279.4 263.7,278.7 264.0,278.2" fill="none" stroke="#86c386" stroke-width="0.75" stroke-linejoin="round" />
<polyline points="36.4,320.7 36.7,320.8 37.0,321.3 37.3,322.1 37.5,323.0 37.8,324.0 38.1,325.1 38.4,326.6 38.7,328.6 39.0,331.0 39.2,333.6 39.5,336.5 39.8,339.3 40.1,342.2 40.4,345.4 40.7,349.0 41.0,352.7 41.2,356.6 41.5,360.3 41.8,363.7 42.1,367.0 42.4,370.7 42.7,374.3 42.9,377.7 43.2,380.3 43.5,381.9 43.8,382.1 44.1,380.9 44.4,378.8 44.7,376.0 44.9,372.9 45.2,369.8 45.5,367.1 45.8,364.7 46.1,362.4 46.4,360.0 46.6,357.5 46.9,355.1 47.2,352.6 47.5,350.0 47.8,347.3 48.1,344.4 48.3,341.1 48.6,337.7 48.9,334.3 49.2,331.1 49.5,328.3 49.8,326.1 50.1,324.4 50.3,322.7 50.6,321.1 50.9,319.7 51.2,318.6 51.5,317.7 51.8,317.3 52.0,317.3 52.3,317.3 52.6,317.4 52.9,317.6 53.2,317.8 53.5,318.1 53.8,318.3 54.0,318.6 54.3,318.9 54.6,319.2 54.9,319.5 55.2,319.7 55.5,320.0 55.7,320.2 56.0,320.4 56.3,320.5 56.6,320.6 56.9,320.7 57.2,320.6 57.5,320.4 57.7,320.0 58.0,319.6 58.3,319.0 58.6,318.3 58.9,317.6 59.2,316.7 59.4,315.8 59.7,314.9 60.0,313.9 60.3,312.9 60.6,311.8 60.9,310.7 61.2,309.7 61.4,308.6 61.7,307.5 62.0,306.5 62.3,305.6 62.6,304.6 62.9,303.8 63.1,303.0 63.4,302.2 63.7,301.6 64.0,301.1 64.3,300.7 64.6,300.4 64.8,300.3 65.1,300.3 65.4,300.4 65.7,300.6 66.0,300.9 66.3,301.4 66.6,301.9 66.8,302.5 67.1,303.1 67.4,303.8 67.7,304.6 68.0,305.4 68.3,306.2 68.5,307.0 68.8,307.8 69.1,308.6 69.4,309.4 69.7,310.1 70.0,310.8 70.3,311.5 70.5,312.1 70.8,312.6 71.1,313.1 71.4,313.4 71.7,313.7 72.0,313.8 72.2,313.8 72.5,313.7 72.8,313.3 73.1,312.8 73.4,312.2 73.7,311.4 74.0,310.5 74.2,309.5 74.5,308.5 74.8,307.3 75.1,306.1 75.4,304.9 75.7,303.6 75.9,302.4 76.2,301.2 76.5,299.9 76.8,298.8 77.1,297.7 77.4,296.6 77.7,295.7 77.9,294.9 78.2,294.2 78.5,293.6 78.8,293.2 79.1,292.9 79.4,292.9 79.6,293.0 79.9,293.2 80.2,293.5 80.5,293.9 80.8,294.4 81.1,294.9 81.4,295.6 81.6,296.3 81.9,297.0 82.2,297.8 82.5,298.6 82.8,299.4 83.1,300.2 83.3,301.0 83.6,301.8 83.9,302.5 84.2,303.3 84.5,303.9 84.8,304.6 85.0,305.1 85.3,305.6 85.6,306.0 85.9,306.2 86.2,306.4 86.5,306.5 86.8,306.4 87.0,306.1 87.3,305.7 87.6,305.1 87.9,304.4 88.2,303.6 88.5,302.8 88.7,301.8 89.0,300.8 89.3,299.7 89.6,298.5 89.9,297.4 90.2,296.3 90.5,295.1 90.7,294.0 91.0,292.9 91.3,291.9 91.6,290.9 91.9,290.0 92.2,289.2 92.4,288.5 92.7,288.0 93.0,287.6 93.3,287.3 93.6,287.2 93.9,287.3 94.2,287.4 94.4,287.7 94.7,288.1 95.0,288.6 95.3,289.2 95.6,289.8 95.9,290.5 96.1,291.3 96.4,292.1 96.7,292.9 97.0,293.8 97.3,294.6 97.6,295.4 97.9,296.3 98.1,297.1 98.4,297.8 98.7,298.6 99.0,299.2 99.3,299.8 99.6,300.3 99.8,300.7 100.1,301.1 100.4,301.3 100.7,301.4 101.0,301.3 101.3,301.1 101.6,300.8 101.8,300.3 102.1,299.7 102.4,299.1 102.7,298.3 103.0,297.5 103.3,296.6 103.5,295.6 103.8,294.6 104.1,293.6 104.4,292.6 104.7,291.6 105.0,290.6 105.2,289.7 105.5,288.7 105.8,287.9 106.1,287.1 106.4,286.3 106.7,285.7 107.0,285.2 107.2,284.8 107.5,284.5 107.8,284.4 108.1,284.4 108.4,284.5 108.7,284.8 108.9,285.1 109.2,285.5 109.5,286.1 109.8,286.6 110.1,287.3 110.4,287.9 110.7,288.7 110.9,289.4 111.2,290.2 111.5,291.0 111.8,291.7 112.1,292.5 112.4,293.3 112.6,294.0 112.9,294.6 113.2,295.3 113.5,295.8 113.8,296.3 114.1,296.7 114.4,297.1 114.6,297.3 114.9,297.4 115.2,297.4 115.5,297.2 115.8,297.0 116.1,296.6 116.3,296.1 116.6,295.6 116.9,294.9 117.2,294.2 117.5,293.5 117.8,292.6 118.1,291.8 118.3,290.9 118.6,290.1 118.9,289.2 119.2,288.3 119.5,287.5 119.8,286.7 120.0,285.9 120.3,285.2 120.6,284.5 120.9,284.0 121.2,283.5 121.5,283.1 121.8,282.8 122.0,282.7 122.3,282.7 122.6,282.8 122.9,283.0 123.2,283.3 123.5,283.8 123.7,284.3 124.0,284.9 124.3,285.5 124.6,286.2 124.9,287.0 125.2,287.7 125.4,288.5 125.7,289.3 126.0,290.1 126.3,291.0 126.6,291.7 126.9,292.5 127.2,293.2 127.4,293.9 127.7,294.5 128.0,295.0 128.3,295.5 128.6,295.8 128.9,296.1 129.1,296.2 129.4,296.3 129.7,296.1 130.0,295.9 130.3,295.5 130.6,295.0 130.9,294.4 131.1,293.7 131.4,292.9 131.7,292.1 132.0,291.2 132.3,290.3 132.6,289.3 132.8,288.3 133.1,287.4 133.4,286.4 133.7,285.4 134.0,284.5 134.3,283.6 134.6,282.8 134.8,282.1 135.1,281.4 135.4,280.9 135.7,280.4 136.0,280.1 136.3,279.9 136.5,279.8 136.8,279.9 137.1,280.1 137.4,280.4 137.7,280.9 138.0,281.4 138.3,282.0 138.5,282.6 138.8,283.3 139.1,284.1 139.4,284.9 139.7,285.7 140.0,286.6 140.2,287.4 140.5,288.2 140.8,289.1 141.1,289.9 141.4,290.6 141.7,291.3 141.9,292.0 142.2,292.5 142.5,293.0 142.8,293.4 143.1,293.7 143.4,293.9 143.7,294.0 143.9,293.9 144.2,293.7 144.5,293.4 144.8,293.0 145.1,292.5 145.4,291.9 145.6,291.2 145.9,290.5 146.2,289.7 146.5,288.9 146.8,288.0 147.1,287.1 147.4,286.2 147.6,285.4 147.9,284.5 148.2,283.7 148.5,282.9 148.8,282.1 149.1,281.5 149.3,280.8 149.6,280.3 149.9,279.9 150.2,279.6 150.5,279.3 150.8,279.3 151.1,279.3 151.3,279.5 151.6,279.8 151.9,280.2 152.2,280.7 152.5,281.2 152.8,281.9 153.0,282.6 153.3,283.3 153.6,284.1 153.9,284.9 154.2,285.8 154.5,286.6 154.8,287.5 155.0,288.3 155.3,289.1 155.6,289.9 155.9,290.6 156.2,291.2 156.5,291.8 156.7,292.4 157.0,292.8 157.3,293.1 157.6,293.3 157.9,293.4 158.2,293.4 158.5,293.2 158.7,292.9 159.0,292.6 159.3,292.1 159.6,291.5 159.9,290.8 160.2,290.1 160.4,289.3 160.7,288.5 161.0,287.7 161.3,286.8 161.6,285.9 161.9,285.0 162.1,284.2 162.4,283.3 162.7,282.5 163.0,281.8 163.3,281.1 163.6,280.4 163.9,279.9 164.1,279.4 164.4,279.1 164.7,278.8 165.0,278.7 165.3,278.7 165.6,278.9 165.8,279.1 166.1,279.5 166.4,279.9 166.7,280.4 167.0,281.0 167.3,281.7 167.6,282.4 167.8,283.1 168.1,283.9 168.4,284.7 168.7,285.5 169.0,286.3 169.3,287.1 169.5,287.9 169.8,288.7 170.1,289.4 170.4,290.0 170.7,290.6 171.0,291.1 171.3,291.6 171.5,291.9 171.8,292.2 172.1,292.3 172.4,292.3 172.7,292.2 173.0,291.9 173.2,291.6 173.5,291.1 173.8,290.6 174.1,290.0 174.4,289.3 174.7,288.6 175.0,287.8 175.2,287.0 175.5,286.1 175.8,285.3 176.1,284.4 176.4,283.6 176.7,282.8 176.9,282.0 177.2,281.3 177.5,280.6 177.8,280.0 178.1,279.4 178.4,278.9 178.7,278.6 178.9,278.3 179.2,278.2 179.5,278.1 179.8,278.2 180.1,278.5 180.4,278.8 180.6,279.3 180.9,279.8 181.2,280.4 181.5,281.1 181.8,281.8 182.1,282.5 182.3,283.4 182.6,284.2 182.9,285.0 183.2,285.9 183.5,286.7 183.8,287.5 184.1,288.3 184.3,289.1 184.6,289.8 184.9,290.4 185.2,291.0 185.5,291.4 185.8,291.8 186.0,292.1 186.3,292.3 186.6,292.3 186.9,292.2 187.2,292.0 187.5,291.6 187.8,291.2 188.0,290.7 188.3,290.0 188.6,289.4 188.9,288.6 189.2,287.8 189.5,287.0 189.7,286.1 190.0,285.2 190.3,284.4 190.6,283.5 190.9,282.6 191.2,281.8 191.5,281.0 191.7,280.3 192.0,279.6 192.3,279.0 192.6,278.5 192.9,278.1 193.2,277.8 193.4,277.6 193.7,277.6 194.0,277.6 194.3,277.8 194.6,278.2 194.9,278.6 195.2,279.1 195.4,279.7 195.7,280.4 196.0,281.2 196.3,281.9 196.6,282.8 196.9,283.6 197.1,284.5 197.4,285.4 197.7,286.3 198.0,287.1 198.3,287.9 198.6,288.7 198.8,289.5 199.1,290.1 199.4,290.8 199.7,291.3 200.0,291.7 200.3,292.0 200.6,292.2 200.8,292.3 201.1,292.2 201.4,292.0 201.7,291.7 202.0,291.3 202.3,290.8 202.5,290.2 202.8,289.5 203.1,288.8 203.4,288.0 203.7,287.2 204.0,286.3 204.3,285.5 204.5,284.6 204.8,283.7 205.1,282.9 205.4,282.0 205.7,281.2 206.0,280.5 206.2,279.8 206.5,279.2 206.8,278.6 207.1,278.2 207.4,277.9 207.7,277.7 208.0,277.6 208.2,277.6 208.5,277.8 208.8,278.1 209.1,278.5 209.4,279.0 209.7,279.6 209.9,280.2 210.2,280.9 210.5,281.7 210.8,282.5 211.1,283.4 211.4,284.3 211.7,285.1 211.9,286.0 212.2,286.9 212.5,287.7 212.8,288.5 213.1,289.3 213.4,290.0 213.6,290.6 213.9,291.1 214.2,291.6 214.5,291.9 214.8,292.2 215.1,292.3 215.4,292.3 215.6,292.1 215.9,291.8 216.2,291.4 216.5,291.0 216.8,290.4 217.1,289.7 217.3,289.0 217.6,288.2 217.9,287.4 218.2,286.6 218.5,285.7 218.8,284.8 219.0,284.0 219.3,283.1 219.6,282.2 219.9,281.4 220.2,280.7 220.5,280.0 220.8,279.3 221.0,278.8 221.3,278.3 221.6,278.0 221.9,277.7 222.2,277.6 222.5,277.6 222.7,277.7 223.0,278.0 223.3,278.4 223.6,278.8 223.9,279.4 224.2,280.0 224.5,280.7 224.7,281.5 225.0,282.3 225.3,283.2 225.6,284.0 225.9,284.9 226.2,285.8 226.4,286.7 226.7,287.5 227.0,288.3 227.3,289.1 227.6,289.8 227.9,290.4 228.2,291.0 228.4,291.5 228.7,291.9 229.0,292.1 229.3,292.3 229.6,292.3 229.9,292.2 230.1,291.9 230.4,291.6 230.7,291.1 231.0,290.5 231.3,289.9 231.6,289.2 231.9,288.4 232.1,287.6 232.4,286.8 232.7,285.9 233.0,285.1 233.3,284.2 233.6,283.3 233.8,282.5 234.1,281.6 234.4,280.9 234.7,280.2 235.0,279.5 235.3,278.9 235.6,278.4 235.8,278.0 236.1,277.8 236.4,277.6 236.7,277.6 237.0,277.7 237.3,277.9 237.5,278.2 237.8,278.7 238.1,279.2 238.4,279.9 238.7,280.6 239.0,281.3 239.2,282.1 239.5,282.9 239.8,283.8 240.1,284.7 240.4,285.6 240.7,286.4 241.0,287.3 241.2,288.1 241.5,288.9 241.8,289.6 242.1,290.3 242.4,290.9 242.7,291.4 242.9,291.8 243.2,292.1 243.5,292.3 243.8,292.3 244.1,292.2 244.4,292.0 244.7,291.7 244.9,291.2 245.2,290.7 245.5,290.1 245.8,289.4 246.1,288.7 246.4,287.9 246.6,287.0 246.9,286.2 247.2,285.3 247.5,284.4 247.8,283.5 248.1,282.7 248.4,281.9 248.6,281.1 248.9,280.3 249.2,279.7 249.5,279.1 249.8,278.6 250.1,278.1 250.3,277.8 250.6,277.6 250.9,277.6 251.2,277.6 251.5,277.8 251.8,278.1 252.1,278.6 252.3,279.1 252.6,279.7 252.9,280.4 253.2,281.1 253.5,281.9 253.8,282.7 254.0,283.6 254.3,284.4 254.6,285.3 254.9,286.2 255.2,287.1 255.5,287.9 255.7,288.7 256.0,289.4 256.3,290.1 256.6,290.7 256.9,291.2 257.2,291.7 257.5,292.0 257.7,292.2 258.0,292.3 258.3,292.2 258.6,292.1 258.9,291.8 259.2,291.4 259.4,290.8 259.7,290.3 260.0,289.6 260.3,288.9 260.6,288.1 260.9,287.3 261.2,286.4 261.4,285.5 261.7,284.6 262.0,283.8 262.3,282.9 262.6,282.1 262.9,281.3 263.1,280.5 263.4,279.8 263.7,279.2 264.0,278.7" fill="none" stroke="#ff7474" stroke-width="0.75" stroke-linejoin="round" />
<line x1="36.40" y1="233.90" x2="36.40" y2="404.00" stroke="#d4d4d4" stroke-width="0.8"/>
<line x1="36.40" y1="404.00" x2="264.00" y2="404.00" stroke="#a8a8a8" stroke-width="0.8"/>
<line x1="36.40" y1="404.00" x2="38.80" y2="404.00" stroke="#a8a8a8" stroke-width="0.7"/>
<text x="35.40" y="406.68" text-anchor="end" font-size="6.6">8.5</text>
<line x1="36.40" y1="375.65" x2="38.80" y2="375.65" stroke="#a8a8a8" stroke-width="0.7"/>
<text x="35.40" y="378.33" text-anchor="end" font-size="6.6">9</text>
<line x1="36.40" y1="347.30" x2="38.80" y2="347.30" stroke="#a8a8a8" stroke-width="0.7"/>
<text x="35.40" y="349.98" text-anchor="end" font-size="6.6">9.5</text>
<line x1="36.40" y1="318.95" x2="38.80" y2="318.95" stroke="#a8a8a8" stroke-width="0.7"/>
<text x="35.40" y="321.63" text-anchor="end" font-size="6.6">10</text>
<line x1="36.40" y1="290.60" x2="38.80" y2="290.60" stroke="#a8a8a8" stroke-width="0.7"/>
<text x="35.40" y="293.28" text-anchor="end" font-size="6.6">10.5</text>
<line x1="36.40" y1="262.25" x2="38.80" y2="262.25" stroke="#a8a8a8" stroke-width="0.7"/>
<text x="35.40" y="264.93" text-anchor="end" font-size="6.6">11</text>
<line x1="36.40" y1="233.90" x2="38.80" y2="233.90" stroke="#a8a8a8" stroke-width="0.7"/>
<text x="35.40" y="236.58" text-anchor="end" font-size="6.6">11.5</text>
<line x1="36.40" y1="404.00" x2="36.40" y2="401.60" stroke="#a8a8a8" stroke-width="0.7"/>
<text x="36.40" y="412.00" text-anchor="middle" font-size="6.6">0</text>
<line x1="59.16" y1="404.00" x2="59.16" y2="401.60" stroke="#a8a8a8" stroke-width="0.7"/>
<text x="59.16" y="412.00" text-anchor="middle" font-size="6.6">10</text>
<line x1="81.92" y1="404.00" x2="81.92" y2="401.60" stroke="#a8a8a8" stroke-width="0.7"/>
<text x="81.92" y="412.00" text-anchor="middle" font-size="6.6">20</text>
<line x1="104.68" y1="404.00" x2="104.68" y2="401.60" stroke="#a8a8a8" stroke-width="0.7"/>
<text x="104.68" y="412.00" text-anchor="middle" font-size="6.6">30</text>
<line x1="127.44" y1="404.00" x2="127.44" y2="401.60" stroke="#a8a8a8" stroke-width="0.7"/>
<text x="127.44" y="412.00" text-anchor="middle" font-size="6.6">40</text>
<line x1="150.20" y1="404.00" x2="150.20" y2="401.60" stroke="#a8a8a8" stroke-width="0.7"/>
<text x="150.20" y="412.00" text-anchor="middle" font-size="6.6">50</text>
<line x1="172.96" y1="404.00" x2="172.96" y2="401.60" stroke="#a8a8a8" stroke-width="0.7"/>
<text x="172.96" y="412.00" text-anchor="middle" font-size="6.6">60</text>
<line x1="195.72" y1="404.00" x2="195.72" y2="401.60" stroke="#a8a8a8" stroke-width="0.7"/>
<text x="195.72" y="412.00" text-anchor="middle" font-size="6.6">70</text>
<line x1="218.48" y1="404.00" x2="218.48" y2="401.60" stroke="#a8a8a8" stroke-width="0.7"/>
<text x="218.48" y="412.00" text-anchor="middle" font-size="6.6">80</text>
<line x1="241.24" y1="404.00" x2="241.24" y2="401.60" stroke="#a8a8a8" stroke-width="0.7"/>
<text x="241.24" y="412.00" text-anchor="middle" font-size="6.6">90</text>
<line x1="264.00" y1="404.00" x2="264.00" y2="401.60" stroke="#a8a8a8" stroke-width="0.7"/>
<text x="264.00" y="412.00" text-anchor="middle" font-size="6.6">100</text>
<text x="150.20" y="420.00" text-anchor="middle" font-size="6.6">simulation time</text>
<text transform="translate(19.00,319.00) rotate(-90)" x="0" y="0" text-anchor="middle" font-size="7.1">speed(m/s)</text>
<line x1="189.50" y1="368.00" x2="201.80" y2="368.00" stroke="#a4a4ff" stroke-width="0.9" />
<text x="203.30" y="370.34" font-size="6.5">the 1st vehicle</text>
<line x1="189.50" y1="377.50" x2="201.80" y2="377.50" stroke="#86c386" stroke-width="0.9" />
<text x="203.30" y="379.84" font-size="6.5">the IDM vehicle</text>
<line x1="189.50" y1="386.60" x2="201.80" y2="386.60" stroke="#ff7474" stroke-width="0.9" />
<text x="203.30" y="388.94" font-size="6.5">the CACC vehicle</text>
<polyline points="305.2,300.2 308.2,280.2 312.9,244.6 317.5,287.4 322.2,287.4 326.9,244.6 331.6,280.2 336.2,293.4 340.9,246.8 345.6,272.4 350.2,297.7 354.9,251.0 359.6,264.6 364.3,299.9 368.9,256.9 373.6,257.4 378.3,300.0 382.9,264.1 387.6,251.3 392.3,297.9 397.0,271.9 401.6,247.0 406.3,293.7 411.0,279.7 415.7,244.6 420.3,287.8 425.0,287.0 429.7,244.5 434.3,280.7 439.0,293.0 443.7,246.6 448.4,272.9 453.0,297.4 457.7,250.7 462.4,265.0 467.0,299.9 471.7,256.5 476.4,257.8 481.1,300.1 485.7,263.6 490.4,251.7 495.1,298.1 499.7,271.4 504.4,247.2 509.1,294.0 513.8,279.3 518.4,244.7 523.1,288.2 527.8,286.5 532.5,244.4 537.1,281.1 538.8,296.4" fill="none" stroke="#7c7cff" stroke-width="0.75" stroke-linejoin="round" />
<polyline points="305.2,300.2 308.2,319.4 312.9,349.2 317.5,321.2 322.2,293.7 326.9,295.6 331.6,288.6 336.2,282.1 340.9,291.4 345.6,283.0 350.2,274.6 354.9,284.9 359.6,277.9 364.3,270.9 368.9,280.7 373.6,279.7 378.3,269.5 382.9,277.4 387.6,277.7 392.3,269.1 397.0,273.7 401.6,278.1 406.3,269.4 411.0,271.8 415.7,278.1 420.3,270.1 425.0,270.1 429.7,277.8 434.3,271.0 439.0,268.6 443.7,277.0 448.4,272.2 453.0,267.7 457.7,276.2 462.4,273.6 467.0,267.2 471.7,275.2 476.4,274.9 481.1,267.2 485.7,273.9 490.4,276.0 495.1,267.5 499.7,272.4 504.4,276.9 509.1,268.3 513.8,271.0 518.4,277.3 523.1,269.3 527.8,269.6 532.5,277.4 537.1,270.6 538.8,267.8" fill="none" stroke="#86c386" stroke-width="0.75" stroke-linejoin="round" />
<polyline points="305.2,300.2 308.2,322.2 312.9,355.7 317.5,389.8 322.2,353.4 326.9,317.5 331.6,297.4 336.2,294.6 340.9,294.9 345.6,295.1 350.2,292.8 354.9,287.2 359.6,286.5 364.3,285.8 368.9,283.5 373.6,282.1 378.3,282.1 382.9,279.3 387.6,278.8 392.3,278.3 397.0,277.6 401.6,277.6 406.3,276.1 411.0,276.1 415.7,276.7 420.3,275.1 425.0,274.7 429.7,275.3 434.3,274.2 439.0,273.6 443.7,274.6 448.4,273.8 453.0,273.1 457.7,274.1 462.4,273.6 467.0,272.6 471.7,273.6 476.4,273.5 481.1,272.3 485.7,273.2 490.4,273.4 495.1,272.2 499.7,272.8 504.4,273.4 509.1,272.1 513.8,272.4 518.4,273.2 523.1,272.1 527.8,272.1 532.5,273.0 537.1,272.1 538.8,271.7" fill="none" stroke="#ff7474" stroke-width="0.75" stroke-linejoin="round" />
<line x1="305.20" y1="230.30" x2="305.20" y2="393.50" stroke="#bdbdbd" stroke-width="1.2"/>
<line x1="305.20" y1="393.50" x2="538.80" y2="393.50" stroke="#c4c4c4" stroke-width="1.2"/>
<line x1="305.20" y1="393.50" x2="307.60" y2="393.50" stroke="#a8a8a8" stroke-width="0.7"/>
<text x="304.20" y="396.00" text-anchor="end" font-size="6.65">8</text>
<line x1="305.20" y1="370.19" x2="307.60" y2="370.19" stroke="#a8a8a8" stroke-width="0.7"/>
<text x="304.20" y="372.68" text-anchor="end" font-size="6.65">8.5</text>
<line x1="305.20" y1="346.88" x2="307.60" y2="346.88" stroke="#a8a8a8" stroke-width="0.7"/>
<text x="304.20" y="349.37" text-anchor="end" font-size="6.65">9</text>
<line x1="305.20" y1="323.56" x2="307.60" y2="323.56" stroke="#a8a8a8" stroke-width="0.7"/>
<text x="304.20" y="326.05" text-anchor="end" font-size="6.65">9.5</text>
<line x1="305.20" y1="300.25" x2="307.60" y2="300.25" stroke="#a8a8a8" stroke-width="0.7"/>
<text x="304.20" y="302.74" text-anchor="end" font-size="6.65">10</text>
<line x1="305.20" y1="276.93" x2="307.60" y2="276.93" stroke="#a8a8a8" stroke-width="0.7"/>
<text x="304.20" y="279.42" text-anchor="end" font-size="6.65">10.5</text>
<line x1="305.20" y1="253.62" x2="307.60" y2="253.62" stroke="#a8a8a8" stroke-width="0.7"/>
<text x="304.20" y="256.11" text-anchor="end" font-size="6.65">11</text>
<line x1="305.20" y1="230.30" x2="307.60" y2="230.30" stroke="#a8a8a8" stroke-width="0.7"/>
<text x="304.20" y="232.79" text-anchor="end" font-size="6.65">11.5</text>
<line x1="305.20" y1="393.50" x2="305.20" y2="391.11" stroke="#a8a8a8" stroke-width="0.7"/>
<text x="305.20" y="401.60" text-anchor="middle" font-size="6.65">0</text>
<line x1="328.56" y1="393.50" x2="328.56" y2="391.11" stroke="#a8a8a8" stroke-width="0.7"/>
<text x="328.56" y="401.60" text-anchor="middle" font-size="6.65">10</text>
<line x1="351.92" y1="393.50" x2="351.92" y2="391.11" stroke="#a8a8a8" stroke-width="0.7"/>
<text x="351.92" y="401.60" text-anchor="middle" font-size="6.65">20</text>
<line x1="375.28" y1="393.50" x2="375.28" y2="391.11" stroke="#a8a8a8" stroke-width="0.7"/>
<text x="375.28" y="401.60" text-anchor="middle" font-size="6.65">30</text>
<line x1="398.64" y1="393.50" x2="398.64" y2="391.11" stroke="#a8a8a8" stroke-width="0.7"/>
<text x="398.64" y="401.60" text-anchor="middle" font-size="6.65">40</text>
<line x1="422.00" y1="393.50" x2="422.00" y2="391.11" stroke="#a8a8a8" stroke-width="0.7"/>
<text x="422.00" y="401.60" text-anchor="middle" font-size="6.65">50</text>
<line x1="445.36" y1="393.50" x2="445.36" y2="391.11" stroke="#a8a8a8" stroke-width="0.7"/>
<text x="445.36" y="401.60" text-anchor="middle" font-size="6.65">60</text>
<line x1="468.72" y1="393.50" x2="468.72" y2="391.11" stroke="#a8a8a8" stroke-width="0.7"/>
<text x="468.72" y="401.60" text-anchor="middle" font-size="6.65">70</text>
<line x1="492.08" y1="393.50" x2="492.08" y2="391.11" stroke="#a8a8a8" stroke-width="0.7"/>
<text x="492.08" y="401.60" text-anchor="middle" font-size="6.65">80</text>
<line x1="515.44" y1="393.50" x2="515.44" y2="391.11" stroke="#a8a8a8" stroke-width="0.7"/>
<text x="515.44" y="401.60" text-anchor="middle" font-size="6.65">90</text>
<line x1="538.80" y1="393.50" x2="538.80" y2="391.11" stroke="#a8a8a8" stroke-width="0.7"/>
<text x="538.80" y="401.60" text-anchor="middle" font-size="6.65">100</text>
<text x="422.00" y="409.30" text-anchor="middle" font-size="6.65">simulation time</text>
<text transform="translate(287.00,312.00) rotate(-90)" x="0" y="0" text-anchor="middle" font-size="6.7">speed(m/s)</text>
<line x1="454.10" y1="361.80" x2="466.40" y2="361.80" stroke="#a4a4ff" stroke-width="0.9" />
<text x="467.70" y="364.23" font-size="6.75">the 1st vehicle</text>
<line x1="454.10" y1="370.90" x2="466.40" y2="370.90" stroke="#9ccf9c" stroke-width="0.9" />
<text x="467.70" y="373.33" font-size="6.75">the 1st IDM vehicle</text>
<line x1="454.10" y1="380.00" x2="466.40" y2="380.00" stroke="#ff9a9a" stroke-width="0.9" />
<text x="467.70" y="382.43" font-size="6.75">the 2nd IDM vehicle</text>
<text x="141.80" y="224.20" text-anchor="middle" font-family="'Liberation Serif', 'Times New Roman', serif" font-size="11.4" fill="#000" style="stroke:#000;stroke-width:0.12px" textLength="227.0" lengthAdjust="spacing">(<tspan font-weight="bold">a</tspan>) CACC vehicles are followed by IDM vehicles</text>
<text x="420.10" y="223.90" text-anchor="middle" font-family="'Liberation Serif', 'Times New Roman', serif" font-size="11.4" fill="#000" style="stroke:#000;stroke-width:0.12px" textLength="237.5" lengthAdjust="spacing">(<tspan font-weight="bold">b</tspan>) CACC vehicles are followed by CACC vehicles</text>
<text x="141.90" y="437.50" text-anchor="middle" font-family="'Liberation Serif', 'Times New Roman', serif" font-size="11.4" fill="#000" style="stroke:#000;stroke-width:0.12px" textLength="226.8" lengthAdjust="spacing">(<tspan font-weight="bold">c</tspan>) IDM vehicles are followed by CACC vehicles</text>
<text x="420.10" y="437.40" text-anchor="middle" font-family="'Liberation Serif', 'Times New Roman', serif" font-size="11.4" fill="#000" style="stroke:#000;stroke-width:0.12px" textLength="218.7" lengthAdjust="spacing">(<tspan font-weight="bold">d</tspan>) IDM vehicles are followed by IDM vehicles</text>
</svg>
</body></html>
